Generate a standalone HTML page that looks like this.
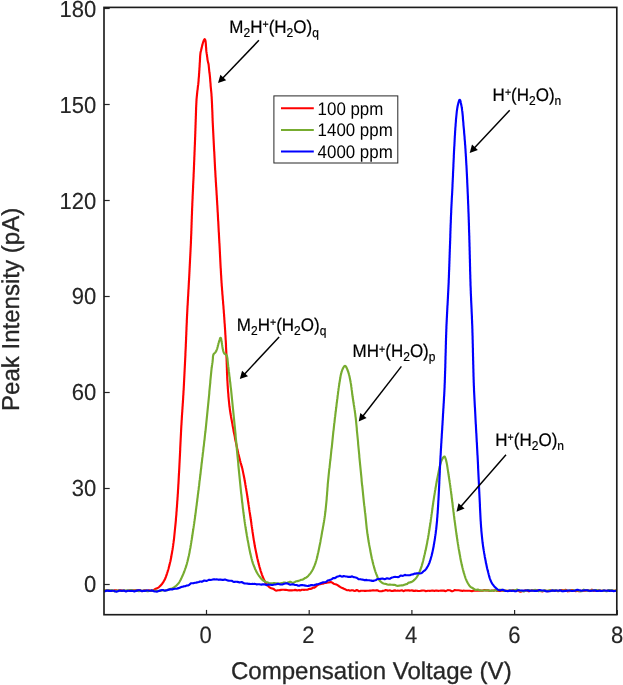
<!DOCTYPE html>
<html><head><meta charset="utf-8"><title>Peak Intensity vs Compensation Voltage</title>
<style>
html,body{margin:0;padding:0;background:#fff}
svg{display:block}
text{font-family:"Liberation Sans",sans-serif;text-rendering:geometricPrecision}
.tk{font-size:22.05px;fill:#262626;stroke:#262626;stroke-width:0.12px}
.lab{font-size:24.05px;fill:#262626;stroke:#262626;stroke-width:0.3px}
.leg{font-size:16.9px;fill:#000}
.ann{font-size:17px;fill:#000;stroke:#000;stroke-width:0.2px}
.ss{font-size:12px}
.sp{font-size:10.6px}
</style></head><body>
<svg width="623" height="685" viewBox="0 0 623 685">
<rect width="623" height="685" fill="#fff"/>
<clipPath id="c"><rect x="104" y="7.4" width="512.8" height="607"/></clipPath>
<g clip-path="url(#c)" fill="none" stroke-width="2.15" stroke-linejoin="round">
<path d="M103.9,590.9 L104.9,590.7 L105.9,590.4 L106.9,590.4 L107.9,590.5 L108.9,590.4 L109.9,590.7 L110.9,590.7 L111.9,590.6 L112.9,590.8 L113.9,590.7 L114.9,590.2 L115.9,590.2 L116.9,590.6 L117.9,590.7 L118.9,590.4 L119.9,590.3 L120.9,590.4 L121.9,590.6 L122.9,590.6 L123.9,590.5 L124.9,590.9 L125.9,591.0 L126.9,591.0 L127.9,590.8 L128.9,590.5 L129.9,590.4 L130.9,590.3 L131.9,590.5 L132.9,590.6 L133.9,590.4 L134.9,590.3 L135.9,590.3 L136.9,590.2 L137.9,590.3 L138.9,590.4 L139.9,590.3 L140.9,590.7 L141.9,591.1 L142.9,591.0 L143.9,590.5 L144.9,590.2 L145.9,590.4 L146.9,590.8 L147.9,590.6 L148.9,590.3 L149.9,590.6 L150.9,590.9 L151.9,590.6 L152.9,590.3 L153.8,589.9 L154.8,589.3 L155.7,588.8 L156.6,588.4 L157.5,588.0 L158.3,587.6 L159.1,587.0 L159.8,586.3 L160.6,585.6 L161.3,584.8 L162.0,584.0 L162.6,583.2 L163.1,582.4 L163.6,581.6 L164.1,580.7 L164.6,579.9 L165.0,579.0 L165.4,578.0 L165.8,577.1 L166.1,576.1 L166.5,575.2 L166.8,574.2 L167.1,573.3 L167.4,572.3 L167.7,571.4 L168.0,570.4 L168.3,569.5 L168.6,568.5 L168.8,567.5 L169.1,566.6 L169.3,565.6 L169.6,564.6 L169.8,563.6 L170.0,562.7 L170.3,561.7 L170.5,560.7 L170.7,559.7 L170.9,558.7 L171.1,557.8 L171.3,556.8 L171.4,555.8 L171.6,554.8 L171.8,553.8 L172.0,552.8 L172.1,551.9 L172.3,550.9 L172.5,549.9 L172.6,548.9 L172.8,547.9 L172.9,546.9 L173.1,545.9 L173.2,544.9 L173.3,543.9 L173.5,542.9 L173.6,542.0 L173.7,541.0 L173.9,540.0 L174.0,539.0 L174.1,538.0 L174.2,537.0 L174.3,536.0 L174.4,535.0 L174.5,534.0 L174.6,533.0 L174.7,532.0 L174.8,531.0 L174.9,530.0 L175.0,529.0 L175.1,528.0 L175.2,527.0 L175.3,526.1 L175.4,525.1 L175.5,524.1 L175.6,523.1 L175.7,522.1 L175.8,521.1 L175.9,520.1 L175.9,519.1 L176.0,518.1 L176.1,517.1 L176.2,516.1 L176.3,515.1 L176.4,514.1 L176.4,513.1 L176.5,512.1 L176.6,511.1 L176.7,510.1 L176.7,509.1 L176.8,508.1 L176.9,507.1 L177.0,506.1 L177.0,505.1 L177.1,504.1 L177.2,503.1 L177.2,502.1 L177.3,501.1 L177.4,500.1 L177.5,499.1 L177.5,498.1 L177.6,497.1 L177.7,496.1 L177.7,495.1 L177.8,494.1 L177.9,493.1 L177.9,492.1 L178.0,491.1 L178.0,490.1 L178.1,489.1 L178.2,488.1 L178.2,487.2 L178.3,486.2 L178.3,485.2 L178.4,484.2 L178.5,483.2 L178.5,482.2 L178.6,481.2 L178.6,480.2 L178.7,479.2 L178.7,478.2 L178.8,477.2 L178.8,476.2 L178.9,475.2 L178.9,474.2 L179.0,473.2 L179.1,472.2 L179.1,471.2 L179.2,470.2 L179.2,469.2 L179.3,468.2 L179.3,467.2 L179.4,466.2 L179.4,465.2 L179.5,464.2 L179.5,463.2 L179.6,462.2 L179.6,461.2 L179.7,460.2 L179.7,459.2 L179.8,458.2 L179.8,457.2 L179.9,456.2 L179.9,455.2 L180.0,454.2 L180.0,453.2 L180.1,452.2 L180.1,451.2 L180.2,450.2 L180.2,449.2 L180.2,448.2 L180.3,447.2 L180.3,446.2 L180.4,445.2 L180.4,444.2 L180.5,443.2 L180.5,442.2 L180.6,441.2 L180.6,440.2 L180.7,439.2 L180.7,438.2 L180.8,437.2 L180.8,436.2 L180.9,435.2 L180.9,434.2 L181.0,433.2 L181.0,432.2 L181.1,431.2 L181.1,430.2 L181.2,429.2 L181.2,428.2 L181.3,427.2 L181.3,426.2 L181.4,425.2 L181.5,424.2 L181.5,423.2 L181.6,422.2 L181.6,421.2 L181.7,420.2 L181.8,419.2 L181.8,418.2 L181.9,417.2 L181.9,416.2 L182.0,415.2 L182.1,414.2 L182.1,413.3 L182.2,412.3 L182.3,411.3 L182.3,410.3 L182.4,409.3 L182.5,408.3 L182.5,407.3 L182.6,406.3 L182.7,405.3 L182.7,404.3 L182.8,403.3 L182.9,402.3 L182.9,401.3 L183.0,400.3 L183.1,399.3 L183.1,398.3 L183.2,397.3 L183.2,396.3 L183.3,395.3 L183.4,394.3 L183.4,393.3 L183.5,392.3 L183.5,391.3 L183.6,390.3 L183.7,389.3 L183.7,388.3 L183.8,387.3 L183.8,386.3 L183.9,385.3 L183.9,384.3 L184.0,383.3 L184.0,382.3 L184.1,381.3 L184.1,380.3 L184.2,379.3 L184.2,378.3 L184.3,377.3 L184.3,376.3 L184.4,375.3 L184.4,374.3 L184.5,373.3 L184.5,372.3 L184.6,371.3 L184.6,370.3 L184.7,369.3 L184.7,368.3 L184.8,367.3 L184.8,366.3 L184.9,365.3 L184.9,364.3 L185.0,363.3 L185.0,362.3 L185.1,361.3 L185.1,360.3 L185.2,359.3 L185.2,358.3 L185.3,357.3 L185.3,356.3 L185.4,355.3 L185.4,354.3 L185.4,353.3 L185.5,352.3 L185.5,351.3 L185.6,350.3 L185.6,349.3 L185.7,348.3 L185.7,347.3 L185.8,346.3 L185.8,345.3 L185.8,344.3 L185.9,343.3 L185.9,342.3 L186.0,341.3 L186.0,340.4 L186.1,339.4 L186.1,338.4 L186.1,337.4 L186.2,336.4 L186.2,335.4 L186.3,334.4 L186.3,333.4 L186.3,332.4 L186.4,331.4 L186.4,330.4 L186.5,329.4 L186.5,328.4 L186.5,327.4 L186.6,326.4 L186.6,325.4 L186.7,324.4 L186.7,323.4 L186.8,322.4 L186.8,321.4 L186.8,320.4 L186.9,319.4 L186.9,318.4 L187.0,317.4 L187.0,316.4 L187.1,315.4 L187.1,314.4 L187.2,313.4 L187.2,312.4 L187.3,311.4 L187.3,310.4 L187.4,309.4 L187.4,308.4 L187.5,307.4 L187.5,306.4 L187.6,305.4 L187.7,304.4 L187.7,303.4 L187.8,302.4 L187.8,301.4 L187.9,300.4 L187.9,299.4 L188.0,298.4 L188.0,297.4 L188.1,296.4 L188.2,295.4 L188.2,294.4 L188.3,293.4 L188.3,292.4 L188.4,291.4 L188.4,290.4 L188.5,289.4 L188.6,288.4 L188.6,287.4 L188.7,286.4 L188.7,285.4 L188.8,284.4 L188.8,283.4 L188.9,282.4 L188.9,281.4 L189.0,280.4 L189.1,279.4 L189.1,278.4 L189.2,277.4 L189.2,276.4 L189.3,275.4 L189.3,274.4 L189.4,273.4 L189.4,272.4 L189.5,271.4 L189.5,270.4 L189.6,269.4 L189.6,268.4 L189.7,267.4 L189.7,266.4 L189.8,265.4 L189.8,264.4 L189.9,263.4 L189.9,262.4 L190.0,261.4 L190.0,260.4 L190.1,259.4 L190.1,258.5 L190.2,257.5 L190.2,256.5 L190.3,255.5 L190.3,254.5 L190.4,253.5 L190.4,252.5 L190.5,251.5 L190.5,250.5 L190.6,249.5 L190.6,248.5 L190.7,247.5 L190.7,246.5 L190.8,245.5 L190.8,244.5 L190.9,243.5 L190.9,242.5 L190.9,241.5 L191.0,240.5 L191.0,239.5 L191.1,238.5 L191.1,237.5 L191.1,236.5 L191.2,235.5 L191.2,234.5 L191.3,233.5 L191.3,232.5 L191.3,231.5 L191.4,230.5 L191.4,229.5 L191.4,228.5 L191.5,227.5 L191.5,226.5 L191.5,225.5 L191.6,224.5 L191.6,223.5 L191.6,222.5 L191.7,221.5 L191.7,220.5 L191.7,219.5 L191.8,218.5 L191.8,217.5 L191.8,216.5 L191.9,215.5 L191.9,214.5 L192.0,213.5 L192.0,212.5 L192.0,211.5 L192.1,210.5 L192.1,209.5 L192.1,208.5 L192.2,207.5 L192.2,206.5 L192.3,205.5 L192.3,204.5 L192.3,203.5 L192.4,202.5 L192.4,201.5 L192.5,200.5 L192.5,199.5 L192.6,198.5 L192.6,197.5 L192.6,196.5 L192.7,195.5 L192.7,194.5 L192.8,193.5 L192.8,192.5 L192.9,191.5 L192.9,190.5 L193.0,189.5 L193.0,188.5 L193.1,187.5 L193.1,186.5 L193.1,185.5 L193.2,184.5 L193.2,183.5 L193.3,182.5 L193.3,181.5 L193.4,180.5 L193.4,179.5 L193.5,178.5 L193.5,177.5 L193.6,176.5 L193.6,175.5 L193.6,174.5 L193.7,173.5 L193.7,172.5 L193.8,171.5 L193.8,170.5 L193.9,169.5 L193.9,168.5 L193.9,167.5 L194.0,166.5 L194.0,165.5 L194.1,164.5 L194.1,163.5 L194.1,162.5 L194.2,161.5 L194.2,160.5 L194.3,159.5 L194.3,158.5 L194.3,157.5 L194.4,156.5 L194.4,155.5 L194.5,154.5 L194.5,153.5 L194.5,152.5 L194.6,151.5 L194.6,150.5 L194.7,149.5 L194.7,148.5 L194.7,147.5 L194.8,146.5 L194.8,145.5 L194.9,144.5 L194.9,143.5 L194.9,142.5 L195.0,141.5 L195.0,140.5 L195.1,139.5 L195.1,138.5 L195.1,137.5 L195.2,136.5 L195.2,135.5 L195.2,134.6 L195.3,133.6 L195.3,132.6 L195.3,131.6 L195.4,130.6 L195.4,129.6 L195.4,128.6 L195.5,127.6 L195.5,126.6 L195.5,125.6 L195.6,124.6 L195.6,123.6 L195.6,122.6 L195.7,121.6 L195.7,120.6 L195.7,119.6 L195.8,118.6 L195.8,117.6 L195.8,116.6 L195.9,115.6 L195.9,114.6 L195.9,113.6 L196.0,112.6 L196.0,111.6 L196.0,110.6 L196.1,109.6 L196.1,108.6 L196.1,107.6 L196.2,106.6 L196.2,105.6 L196.3,104.6 L196.3,103.6 L196.4,102.6 L196.4,101.6 L196.5,100.6 L196.5,99.6 L196.6,98.6 L196.7,97.6 L196.8,96.6 L196.9,95.6 L197.0,94.6 L197.1,93.6 L197.2,92.6 L197.3,91.6 L197.4,90.6 L197.6,89.6 L197.7,88.6 L197.8,87.6 L197.9,86.6 L198.0,85.7 L198.2,84.7 L198.3,83.7 L198.4,82.7 L198.5,81.7 L198.6,80.7 L198.6,79.7 L198.7,78.7 L198.8,77.7 L198.9,76.7 L199.0,75.7 L199.0,74.7 L199.1,73.7 L199.2,72.7 L199.2,71.7 L199.3,70.7 L199.4,69.7 L199.4,68.7 L199.5,67.7 L199.6,66.7 L199.6,65.7 L199.7,64.7 L199.7,63.7 L199.8,62.7 L199.9,61.7 L199.9,60.7 L200.0,59.7 L200.0,58.7 L200.1,57.7 L200.1,56.7 L200.2,55.7 L200.3,54.7 L200.4,53.7 L200.5,52.8 L200.7,51.8 L201.0,50.8 L201.2,49.8 L201.4,48.9 L201.7,47.9 L201.9,46.9 L202.1,45.9 L202.4,44.9 L202.6,44.0 L202.9,43.0 L203.2,42.0 L203.5,41.1 L204.0,40.0 L204.5,39.2 L205.1,39.7 L205.5,40.8 L205.6,41.7 L205.7,42.7 L205.8,43.7 L205.9,44.7 L205.9,45.7 L206.0,46.7 L206.1,47.7 L206.2,48.7 L206.2,49.7 L206.3,50.7 L206.4,51.7 L206.6,52.7 L206.7,53.7 L206.9,54.7 L207.0,55.7 L207.1,56.6 L207.3,57.6 L207.4,58.6 L207.5,59.6 L207.7,60.6 L207.9,61.6 L208.1,62.6 L208.4,63.5 L208.6,64.5 L208.7,65.5 L208.8,66.5 L208.9,67.5 L209.0,68.5 L209.1,69.5 L209.2,70.5 L209.3,71.5 L209.4,72.5 L209.6,73.4 L209.7,74.4 L209.8,75.4 L209.9,76.4 L210.0,77.4 L210.1,78.4 L210.2,79.4 L210.2,80.4 L210.3,81.4 L210.4,82.4 L210.5,83.4 L210.6,84.4 L210.6,85.4 L210.7,86.4 L210.8,87.4 L210.9,88.4 L211.0,89.4 L211.1,90.4 L211.2,91.4 L211.3,92.4 L211.4,93.4 L211.5,94.4 L211.5,95.4 L211.6,96.4 L211.7,97.4 L211.7,98.4 L211.8,99.4 L211.8,100.4 L211.9,101.4 L211.9,102.4 L212.0,103.3 L212.0,104.3 L212.1,105.3 L212.1,106.3 L212.1,107.3 L212.2,108.3 L212.2,109.3 L212.3,110.3 L212.3,111.3 L212.4,112.3 L212.4,113.3 L212.4,114.3 L212.5,115.3 L212.5,116.3 L212.5,117.3 L212.6,118.3 L212.6,119.3 L212.6,120.3 L212.7,121.3 L212.7,122.3 L212.8,123.3 L212.8,124.3 L212.9,125.3 L212.9,126.3 L213.0,127.3 L213.0,128.3 L213.1,129.3 L213.1,130.3 L213.2,131.3 L213.2,132.3 L213.3,133.3 L213.3,134.3 L213.4,135.3 L213.4,136.3 L213.5,137.3 L213.5,138.3 L213.6,139.3 L213.6,140.3 L213.7,141.3 L213.7,142.3 L213.8,143.3 L213.8,144.3 L213.9,145.3 L213.9,146.3 L214.0,147.3 L214.0,148.3 L214.1,149.3 L214.1,150.3 L214.2,151.3 L214.3,152.3 L214.3,153.3 L214.4,154.3 L214.4,155.3 L214.5,156.3 L214.5,157.3 L214.6,158.3 L214.6,159.3 L214.7,160.3 L214.7,161.3 L214.8,162.3 L214.8,163.3 L214.9,164.3 L214.9,165.3 L215.0,166.3 L215.0,167.3 L215.1,168.3 L215.1,169.3 L215.2,170.3 L215.3,171.3 L215.3,172.3 L215.4,173.3 L215.4,174.3 L215.5,175.3 L215.5,176.3 L215.6,177.3 L215.7,178.3 L215.7,179.3 L215.8,180.3 L215.8,181.3 L215.9,182.3 L216.0,183.3 L216.0,184.3 L216.1,185.2 L216.1,186.2 L216.2,187.2 L216.3,188.2 L216.3,189.2 L216.4,190.2 L216.5,191.2 L216.5,192.2 L216.6,193.2 L216.6,194.2 L216.7,195.2 L216.8,196.2 L216.8,197.2 L216.9,198.2 L216.9,199.2 L217.0,200.2 L217.1,201.2 L217.1,202.2 L217.2,203.2 L217.2,204.2 L217.3,205.2 L217.4,206.2 L217.4,207.2 L217.5,208.2 L217.5,209.2 L217.6,210.2 L217.6,211.2 L217.7,212.2 L217.8,213.2 L217.8,214.2 L217.9,215.2 L217.9,216.2 L218.0,217.2 L218.0,218.2 L218.1,219.2 L218.1,220.2 L218.2,221.2 L218.3,222.2 L218.3,223.2 L218.4,224.2 L218.4,225.2 L218.5,226.2 L218.5,227.2 L218.6,228.2 L218.6,229.2 L218.7,230.2 L218.7,231.2 L218.8,232.2 L218.9,233.2 L218.9,234.2 L219.0,235.2 L219.0,236.2 L219.1,237.2 L219.1,238.2 L219.2,239.2 L219.2,240.2 L219.3,241.2 L219.3,242.2 L219.4,243.2 L219.5,244.2 L219.5,245.2 L219.6,246.2 L219.6,247.2 L219.7,248.2 L219.7,249.1 L219.8,250.1 L219.8,251.1 L219.9,252.1 L219.9,253.1 L220.0,254.1 L220.0,255.1 L220.1,256.1 L220.1,257.1 L220.2,258.1 L220.2,259.1 L220.3,260.1 L220.3,261.1 L220.4,262.1 L220.4,263.1 L220.5,264.1 L220.5,265.1 L220.6,266.1 L220.6,267.1 L220.7,268.1 L220.8,269.1 L220.8,270.1 L220.9,271.1 L220.9,272.1 L221.0,273.1 L221.0,274.1 L221.1,275.1 L221.2,276.1 L221.2,277.1 L221.3,278.1 L221.3,279.1 L221.4,280.1 L221.5,281.1 L221.5,282.1 L221.6,283.1 L221.7,284.1 L221.7,285.1 L221.8,286.1 L221.9,287.1 L222.0,288.1 L222.0,289.1 L222.1,290.1 L222.2,291.1 L222.3,292.1 L222.3,293.1 L222.4,294.1 L222.5,295.1 L222.6,296.1 L222.7,297.1 L222.7,298.1 L222.8,299.1 L222.9,300.0 L223.0,301.0 L223.1,302.0 L223.1,303.0 L223.2,304.0 L223.3,305.0 L223.4,306.0 L223.5,307.0 L223.5,308.0 L223.6,309.0 L223.7,310.0 L223.8,311.0 L223.8,312.0 L223.9,313.0 L224.0,314.0 L224.1,315.0 L224.1,316.0 L224.2,317.0 L224.3,318.0 L224.3,319.0 L224.4,320.0 L224.5,321.0 L224.5,322.0 L224.6,323.0 L224.7,324.0 L224.8,325.0 L224.8,326.0 L224.9,327.0 L225.0,328.0 L225.0,329.0 L225.1,330.0 L225.2,331.0 L225.2,332.0 L225.3,333.0 L225.3,334.0 L225.4,335.0 L225.5,336.0 L225.5,337.0 L225.6,338.0 L225.6,339.0 L225.7,340.0 L225.8,341.0 L225.8,342.0 L225.9,342.9 L225.9,343.9 L226.0,344.9 L226.0,345.9 L226.0,346.9 L226.1,347.9 L226.1,348.9 L226.2,349.9 L226.2,350.9 L226.3,351.9 L226.3,352.9 L226.4,353.9 L226.4,354.9 L226.4,355.9 L226.5,356.9 L226.5,357.9 L226.6,358.9 L226.6,359.9 L226.6,360.9 L226.7,361.9 L226.7,362.9 L226.7,363.9 L226.8,364.9 L226.8,365.9 L226.8,366.9 L226.9,367.9 L226.9,368.9 L226.9,369.9 L227.0,370.9 L227.0,371.9 L227.0,372.9 L227.1,373.9 L227.1,374.9 L227.2,375.9 L227.2,376.9 L227.2,377.9 L227.3,378.9 L227.3,379.9 L227.4,380.9 L227.5,381.9 L227.5,382.9 L227.6,383.9 L227.6,384.9 L227.7,385.9 L227.8,386.9 L227.8,387.9 L227.9,388.9 L228.0,389.9 L228.0,390.9 L228.1,391.9 L228.2,392.9 L228.3,393.9 L228.4,394.9 L228.4,395.9 L228.5,396.9 L228.6,397.9 L228.7,398.9 L228.8,399.9 L228.9,400.9 L229.0,401.9 L229.1,402.9 L229.2,403.9 L229.3,404.8 L229.4,405.8 L229.5,406.8 L229.7,407.8 L229.8,408.8 L229.9,409.8 L230.1,410.8 L230.2,411.8 L230.4,412.8 L230.5,413.8 L230.7,414.7 L230.9,415.7 L231.0,416.7 L231.2,417.7 L231.4,418.7 L231.6,419.7 L231.8,420.7 L231.9,421.6 L232.1,422.6 L232.3,423.6 L232.5,424.6 L232.6,425.6 L232.8,426.6 L233.0,427.5 L233.2,428.5 L233.4,429.5 L233.5,430.5 L233.7,431.5 L233.9,432.5 L234.1,433.4 L234.3,434.4 L234.5,435.4 L234.7,436.4 L234.9,437.4 L235.0,438.4 L235.2,439.3 L235.4,440.3 L235.6,441.3 L235.9,442.3 L236.1,443.3 L236.3,444.2 L236.5,445.2 L236.7,446.2 L236.9,447.2 L237.1,448.1 L237.3,449.1 L237.5,450.1 L237.8,451.1 L238.0,452.0 L238.2,453.0 L238.4,454.0 L238.7,455.0 L238.9,455.9 L239.1,456.9 L239.4,457.9 L239.6,458.9 L239.9,459.8 L240.1,460.8 L240.4,461.8 L240.6,462.7 L240.9,463.7 L241.2,464.6 L241.5,465.6 L241.7,466.6 L242.0,467.5 L242.3,468.5 L242.5,469.5 L242.7,470.4 L242.9,471.4 L243.1,472.4 L243.3,473.4 L243.5,474.4 L243.7,475.3 L243.9,476.3 L244.1,477.3 L244.3,478.3 L244.5,479.3 L244.6,480.3 L244.8,481.2 L245.0,482.2 L245.2,483.2 L245.3,484.2 L245.5,485.2 L245.7,486.2 L245.8,487.2 L246.0,488.1 L246.2,489.1 L246.3,490.1 L246.5,491.1 L246.7,492.1 L246.8,493.1 L247.0,494.1 L247.1,495.1 L247.3,496.0 L247.4,497.0 L247.6,498.0 L247.7,499.0 L247.9,500.0 L248.0,501.0 L248.2,502.0 L248.3,503.0 L248.5,504.0 L248.6,504.9 L248.8,505.9 L248.9,506.9 L249.1,507.9 L249.2,508.9 L249.3,509.9 L249.5,510.9 L249.6,511.9 L249.8,512.9 L249.9,513.8 L250.1,514.8 L250.2,515.8 L250.4,516.8 L250.5,517.8 L250.7,518.8 L250.8,519.8 L251.0,520.8 L251.1,521.8 L251.3,522.8 L251.4,523.7 L251.5,524.7 L251.7,525.7 L251.8,526.7 L252.0,527.7 L252.1,528.7 L252.3,529.7 L252.4,530.7 L252.5,531.7 L252.7,532.7 L252.8,533.6 L253.0,534.6 L253.1,535.6 L253.3,536.6 L253.4,537.6 L253.6,538.6 L253.7,539.6 L253.9,540.6 L254.1,541.5 L254.2,542.5 L254.4,543.5 L254.6,544.5 L254.7,545.5 L254.9,546.5 L255.1,547.5 L255.3,548.4 L255.5,549.4 L255.7,550.4 L255.9,551.4 L256.1,552.4 L256.3,553.3 L256.5,554.3 L256.7,555.3 L256.9,556.3 L257.1,557.3 L257.3,558.2 L257.6,559.2 L257.8,560.2 L258.0,561.2 L258.3,562.1 L258.5,563.1 L258.7,564.1 L259.0,565.0 L259.3,566.0 L259.5,567.0 L259.8,567.9 L260.1,568.9 L260.4,569.9 L260.6,570.8 L261.0,571.8 L261.3,572.7 L261.6,573.7 L261.9,574.6 L262.3,575.5 L262.6,576.5 L263.0,577.4 L263.4,578.3 L263.8,579.3 L264.3,580.2 L264.7,581.1 L265.2,581.9 L265.7,582.8 L266.3,583.6 L266.9,584.4 L267.5,585.2 L268.2,586.0 L268.9,586.7 L269.7,587.4 L270.5,588.0 L271.3,588.2 L272.2,588.5 L273.1,588.8 L274.1,589.3 L275.1,590.1 L276.0,590.6 L277.0,590.5 L278.0,590.2 L279.0,590.3 L280.0,590.1 L281.0,589.9 L282.0,589.8 L283.0,589.7 L284.0,589.8 L285.0,589.9 L286.0,589.9 L287.0,590.0 L288.0,590.3 L289.0,590.4 L290.0,590.4 L291.0,590.4 L292.0,590.4 L293.0,590.3 L294.0,590.2 L295.1,589.9 L296.1,590.1 L297.1,590.5 L298.1,590.3 L299.1,590.1 L300.1,590.4 L301.1,590.1 L302.1,589.7 L303.1,589.7 L304.0,589.9 L305.0,589.7 L306.0,589.7 L307.0,589.8 L307.9,589.5 L308.9,589.0 L309.8,588.8 L310.8,588.9 L311.7,588.6 L312.7,587.8 L313.6,587.6 L314.5,587.6 L315.5,586.9 L316.4,586.0 L317.3,585.4 L318.2,584.9 L319.1,584.4 L320.1,584.2 L321.0,584.0 L321.9,583.8 L322.9,583.7 L323.9,583.3 L324.8,583.0 L325.8,582.9 L326.8,582.7 L327.8,582.5 L328.8,582.4 L329.8,582.2 L330.7,582.1 L331.7,582.3 L332.6,582.9 L333.6,583.7 L334.5,584.0 L335.4,584.2 L336.3,584.5 L337.1,584.9 L337.9,585.4 L338.8,586.0 L339.6,586.5 L340.4,587.1 L341.3,587.6 L342.1,587.9 L343.0,588.3 L343.9,588.8 L344.9,589.1 L345.8,589.6 L346.8,590.2 L347.8,590.2 L348.8,590.1 L349.8,590.6 L350.8,590.5 L351.8,590.2 L352.8,590.3 L353.8,590.8 L354.8,591.0 L355.8,590.5 L356.7,590.1 L357.7,590.4 L358.7,591.1 L359.7,591.2 L360.7,590.8 L361.7,590.7 L362.7,590.7 L363.7,590.7 L364.7,590.9 L365.7,590.9 L366.7,590.7 L367.7,590.7 L368.7,590.7 L369.7,590.6 L370.7,590.6 L371.7,590.5 L372.7,590.3 L373.7,590.3 L374.7,590.5 L375.7,590.4 L376.7,590.2 L377.7,590.4 L378.7,591.0 L379.7,591.2 L380.7,591.2 L381.7,591.2 L382.7,590.9 L383.7,590.7 L384.7,590.5 L385.7,590.0 L386.8,590.2 L387.8,590.7 L388.8,590.5 L389.8,590.4 L390.8,590.7 L391.8,591.0 L392.8,590.9 L393.8,590.6 L394.8,590.4 L395.8,590.6 L396.8,590.7 L397.8,590.6 L398.8,590.7 L399.8,590.8 L400.8,590.5 L401.8,590.3 L402.8,590.8 L403.8,591.1 L404.8,590.5 L405.8,590.3 L406.8,590.5 L407.8,590.4 L408.8,590.4 L409.8,590.6 L410.8,590.5 L411.8,590.4 L412.8,590.6 L413.8,590.9 L414.8,590.9 L415.8,590.6 L416.8,590.7 L417.8,590.9 L418.8,591.0 L419.8,591.0 L420.8,590.8 L421.8,590.6 L422.8,590.5 L423.8,590.5 L424.8,590.8 L425.8,591.1 L426.8,591.0 L427.8,590.7 L428.8,590.7 L429.8,590.9 L430.8,590.7 L431.8,590.6 L432.8,590.6 L433.8,590.8 L434.8,590.8 L435.8,590.6 L436.8,590.6 L437.8,590.8 L438.8,590.8 L439.8,590.7 L440.8,590.6 L441.8,590.6 L442.8,590.6 L443.8,590.6 L444.8,590.9 L445.8,591.2 L446.8,590.6 L447.8,590.1 L448.8,590.2 L449.8,590.3 L450.8,590.7 L451.8,591.2 L452.8,591.2 L453.8,590.6 L454.8,590.0 L455.8,590.2 L456.8,590.2 L457.8,590.2 L458.8,590.3 L459.8,590.5 L460.8,590.6 L461.8,590.8 L462.8,590.8 L463.8,590.6 L464.8,590.7 L465.8,590.8 L466.8,590.7 L467.8,590.8 L468.8,590.7 L469.8,590.8 L470.8,591.0 L471.8,591.1 L472.8,590.9 L473.8,590.8 L474.8,590.6 L475.8,590.5 L476.8,590.7 L477.8,590.6 L478.8,590.6 L479.8,590.6 L480.8,590.6 L481.8,590.7 L482.8,590.6 L483.8,590.2 L484.8,590.0 L485.8,590.4 L486.8,590.4 L487.8,590.3 L488.8,590.6 L489.8,590.9 L490.8,590.7 L491.8,590.5 L492.8,590.5 L493.8,590.8 L494.8,590.3 L495.8,590.2 L496.8,590.8 L497.8,590.8 L498.8,590.9 L499.8,591.0 L500.8,590.8 L501.8,590.6 L502.8,590.8 L503.8,590.9 L504.8,590.7 L505.8,590.7 L506.8,590.9 L507.8,590.7 L508.8,590.7 L509.8,591.0 L510.8,590.9 L511.8,590.5 L512.8,590.3 L513.8,590.4 L514.8,590.8 L515.8,590.7 L516.8,590.1 L517.8,590.3 L518.8,591.1 L519.8,591.6 L520.8,591.6 L521.8,591.3 L522.8,591.0 L523.8,590.7 L524.8,590.6 L525.8,590.3 L526.8,590.3 L527.8,590.9 L528.8,591.3 L529.8,591.1 L530.8,590.7 L531.8,590.4 L532.8,590.3 L533.8,590.5 L534.8,590.6 L535.8,590.5 L536.8,590.4 L537.8,590.3 L538.8,590.3 L539.8,590.7 L540.8,591.1 L541.8,591.3 L542.8,591.3 L543.8,591.0 L544.8,590.8 L545.8,590.7 L546.8,590.7 L547.8,591.2 L548.8,591.1 L549.8,590.5 L550.8,590.4 L551.8,590.7 L552.8,590.9 L553.8,590.8 L554.8,590.6 L555.8,590.6 L556.8,590.7 L557.8,591.1 L558.8,590.9 L559.8,590.4 L560.8,590.3 L561.8,590.1 L562.8,590.2 L563.8,590.5 L564.8,590.1 L565.8,589.8 L566.8,590.5 L567.8,591.3 L568.8,591.2 L569.8,590.9 L570.8,590.6 L571.8,590.0 L572.8,590.1 L573.8,590.7 L574.8,591.0 L575.8,591.1 L576.8,591.0 L577.8,590.9 L578.8,591.1 L579.8,591.2 L580.8,591.0 L581.8,590.7 L582.8,590.5 L583.8,590.6 L584.8,590.7 L585.8,590.6 L586.8,590.3 L587.8,590.3 L588.8,590.7 L589.8,591.1 L590.8,590.6 L591.8,589.7 L592.8,590.1 L593.8,590.9 L594.8,590.8 L595.8,590.7 L596.8,590.9 L597.8,590.7 L598.8,590.4 L599.8,590.7 L600.8,590.9 L601.8,590.7 L602.8,590.7 L603.8,590.7 L604.8,590.7 L605.8,591.0 L606.8,590.8 L607.8,590.7 L608.8,590.4 L609.8,590.2 L610.8,590.5 L611.8,590.9 L612.8,590.8 L613.8,590.7 L614.8,590.7 L615.8,590.6 L616.8,590.5" stroke="#ff0000"/>
<path d="M103.9,590.6 L104.9,590.5 L105.9,590.4 L106.9,590.6 L107.9,590.3 L108.9,590.3 L109.9,590.6 L110.9,590.3 L111.9,590.2 L112.9,590.4 L113.9,591.0 L114.9,591.4 L115.9,590.9 L116.9,590.5 L117.9,590.6 L118.9,590.6 L119.9,590.8 L120.9,590.9 L121.9,590.7 L122.9,590.5 L123.9,590.5 L124.9,590.6 L125.9,590.6 L126.9,590.4 L127.9,590.5 L128.9,590.5 L129.9,590.4 L130.9,590.1 L131.9,590.2 L132.9,590.4 L133.9,590.9 L134.9,590.9 L135.9,590.4 L136.9,590.5 L137.9,591.0 L138.9,591.2 L139.9,590.9 L140.9,590.5 L141.9,590.7 L142.9,590.8 L143.9,590.8 L144.9,590.6 L145.9,590.5 L146.9,591.1 L147.9,591.3 L148.9,590.9 L149.9,590.8 L150.9,590.7 L151.9,590.5 L152.9,590.7 L153.9,590.9 L154.9,590.7 L155.9,590.5 L156.9,590.7 L157.9,591.0 L158.9,591.0 L159.9,590.8 L160.9,590.8 L161.9,590.6 L162.9,590.1 L163.9,590.2 L164.9,590.5 L165.9,590.5 L166.9,590.2 L167.9,589.7 L168.9,589.5 L169.8,589.1 L170.7,588.7 L171.6,588.7 L172.5,588.3 L173.4,587.7 L174.3,587.2 L175.1,586.6 L176.0,585.9 L176.7,585.3 L177.4,584.6 L178.0,583.9 L178.6,583.2 L179.2,582.3 L179.7,581.5 L180.2,580.6 L180.7,579.7 L181.1,578.8 L181.6,577.8 L182.0,576.9 L182.4,576.0 L182.8,575.1 L183.2,574.2 L183.6,573.2 L184.0,572.3 L184.3,571.4 L184.7,570.4 L185.0,569.5 L185.3,568.5 L185.7,567.6 L186.0,566.6 L186.3,565.7 L186.6,564.7 L186.9,563.7 L187.1,562.8 L187.4,561.8 L187.6,560.9 L187.9,559.9 L188.1,558.9 L188.3,558.0 L188.5,557.0 L188.8,556.0 L189.0,555.0 L189.2,554.1 L189.4,553.1 L189.6,552.1 L189.7,551.1 L189.9,550.1 L190.1,549.1 L190.3,548.2 L190.5,547.2 L190.6,546.2 L190.8,545.2 L191.0,544.2 L191.1,543.2 L191.3,542.2 L191.4,541.2 L191.6,540.2 L191.8,539.2 L191.9,538.3 L192.1,537.3 L192.2,536.3 L192.4,535.3 L192.5,534.3 L192.7,533.3 L192.8,532.3 L193.0,531.3 L193.1,530.3 L193.3,529.3 L193.4,528.4 L193.6,527.4 L193.7,526.4 L193.9,525.4 L194.0,524.4 L194.2,523.4 L194.3,522.4 L194.4,521.4 L194.6,520.4 L194.7,519.4 L194.9,518.5 L195.0,517.5 L195.1,516.5 L195.3,515.5 L195.4,514.5 L195.5,513.5 L195.7,512.5 L195.8,511.5 L195.9,510.5 L196.0,509.5 L196.2,508.5 L196.3,507.5 L196.4,506.5 L196.6,505.6 L196.7,504.6 L196.8,503.6 L196.9,502.6 L197.1,501.6 L197.2,500.6 L197.3,499.6 L197.4,498.6 L197.6,497.6 L197.7,496.6 L197.8,495.6 L197.9,494.6 L198.1,493.6 L198.2,492.7 L198.3,491.7 L198.4,490.7 L198.6,489.7 L198.7,488.7 L198.8,487.7 L198.9,486.7 L199.1,485.7 L199.2,484.7 L199.3,483.7 L199.4,482.7 L199.5,481.7 L199.6,480.7 L199.8,479.7 L199.9,478.7 L200.0,477.8 L200.1,476.8 L200.2,475.8 L200.4,474.8 L200.5,473.8 L200.6,472.8 L200.7,471.8 L200.8,470.8 L200.9,469.8 L201.1,468.8 L201.2,467.8 L201.3,466.8 L201.4,465.8 L201.5,464.8 L201.6,463.8 L201.8,462.8 L201.9,461.9 L202.0,460.9 L202.1,459.9 L202.2,458.9 L202.3,457.9 L202.5,456.9 L202.6,455.9 L202.7,454.9 L202.8,453.9 L202.9,452.9 L203.1,451.9 L203.2,450.9 L203.3,449.9 L203.4,448.9 L203.5,447.9 L203.6,446.9 L203.8,446.0 L203.9,445.0 L204.0,444.0 L204.1,443.0 L204.2,442.0 L204.3,441.0 L204.5,440.0 L204.6,439.0 L204.7,438.0 L204.8,437.0 L204.9,436.0 L205.0,435.0 L205.1,434.0 L205.2,433.0 L205.4,432.0 L205.5,431.0 L205.6,430.1 L205.7,429.1 L205.8,428.1 L205.9,427.1 L206.0,426.1 L206.1,425.1 L206.2,424.1 L206.3,423.1 L206.4,422.1 L206.5,421.1 L206.6,420.1 L206.7,419.1 L206.8,418.1 L206.9,417.1 L207.0,416.1 L207.1,415.1 L207.2,414.1 L207.3,413.1 L207.4,412.1 L207.5,411.1 L207.6,410.1 L207.7,409.2 L207.8,408.2 L207.9,407.2 L208.0,406.2 L208.1,405.2 L208.2,404.2 L208.3,403.2 L208.4,402.2 L208.5,401.2 L208.6,400.2 L208.7,399.2 L208.8,398.2 L208.9,397.2 L209.0,396.2 L209.1,395.2 L209.2,394.2 L209.3,393.2 L209.3,392.2 L209.4,391.2 L209.5,390.2 L209.6,389.2 L209.7,388.2 L209.8,387.2 L209.9,386.2 L210.0,385.2 L210.1,384.2 L210.2,383.3 L210.3,382.3 L210.3,381.3 L210.4,380.3 L210.5,379.3 L210.6,378.3 L210.7,377.3 L210.8,376.3 L210.9,375.3 L211.0,374.3 L211.1,373.3 L211.2,372.3 L211.3,371.3 L211.4,370.3 L211.5,369.3 L211.6,368.3 L211.8,367.3 L211.9,366.3 L212.0,365.3 L212.2,364.4 L212.3,363.4 L212.5,362.4 L212.6,361.4 L212.7,360.4 L212.8,359.4 L212.9,358.4 L212.9,357.4 L213.0,356.4 L213.2,355.4 L213.5,354.4 L214.0,353.6 L214.8,353.0 L215.5,352.3 L216.0,351.5 L216.4,350.5 L216.8,349.6 L217.2,348.6 L217.4,347.7 L217.7,346.7 L217.9,345.7 L218.2,344.8 L218.4,343.8 L218.7,342.8 L219.0,341.7 L219.4,340.5 L219.8,339.3 L220.1,338.3 L220.4,337.7 L220.7,337.7 L221.0,338.2 L221.2,339.3 L221.4,340.5 L221.6,341.8 L221.8,342.9 L222.0,343.9 L222.1,344.9 L222.3,345.9 L222.4,346.9 L222.6,347.9 L222.7,348.8 L223.0,349.8 L223.2,350.8 L223.5,351.9 L223.9,352.8 L224.3,353.6 L225.2,354.2 L226.1,354.6 L226.7,355.4 L227.0,356.3 L227.2,357.3 L227.4,358.2 L227.5,359.2 L227.6,360.2 L227.7,361.2 L227.8,362.2 L227.9,363.2 L228.0,364.2 L228.1,365.2 L228.2,366.2 L228.4,367.2 L228.5,368.2 L228.6,369.2 L228.7,370.2 L228.8,371.2 L229.0,372.2 L229.1,373.2 L229.2,374.1 L229.3,375.1 L229.4,376.1 L229.6,377.1 L229.7,378.1 L229.8,379.1 L229.9,380.1 L230.0,381.1 L230.2,382.1 L230.3,383.1 L230.4,384.1 L230.5,385.1 L230.6,386.1 L230.7,387.1 L230.9,388.1 L231.0,389.0 L231.1,390.0 L231.2,391.0 L231.3,392.0 L231.4,393.0 L231.5,394.0 L231.6,395.0 L231.7,396.0 L231.8,397.0 L231.9,398.0 L232.0,399.0 L232.1,400.0 L232.2,401.0 L232.3,402.0 L232.4,403.0 L232.5,404.0 L232.6,405.0 L232.7,406.0 L232.8,407.0 L232.9,408.0 L233.0,409.0 L233.1,409.9 L233.2,410.9 L233.3,411.9 L233.4,412.9 L233.5,413.9 L233.6,414.9 L233.7,415.9 L233.8,416.9 L233.9,417.9 L234.0,418.9 L234.1,419.9 L234.2,420.9 L234.3,421.9 L234.4,422.9 L234.5,423.9 L234.6,424.9 L234.7,425.9 L234.8,426.9 L234.9,427.9 L235.0,428.9 L235.1,429.9 L235.2,430.9 L235.3,431.9 L235.4,432.9 L235.5,433.8 L235.6,434.8 L235.6,435.8 L235.7,436.8 L235.8,437.8 L235.9,438.8 L236.0,439.8 L236.1,440.8 L236.2,441.8 L236.3,442.8 L236.4,443.8 L236.5,444.8 L236.6,445.8 L236.7,446.8 L236.8,447.8 L236.8,448.8 L236.9,449.8 L237.0,450.8 L237.1,451.8 L237.2,452.8 L237.3,453.8 L237.4,454.8 L237.5,455.8 L237.6,456.8 L237.7,457.8 L237.8,458.8 L237.9,459.7 L238.0,460.7 L238.1,461.7 L238.2,462.7 L238.3,463.7 L238.3,464.7 L238.4,465.7 L238.5,466.7 L238.6,467.7 L238.7,468.7 L238.8,469.7 L238.9,470.7 L239.0,471.7 L239.1,472.7 L239.2,473.7 L239.3,474.7 L239.4,475.7 L239.5,476.7 L239.6,477.7 L239.7,478.7 L239.8,479.7 L239.9,480.7 L240.0,481.7 L240.1,482.7 L240.2,483.6 L240.3,484.6 L240.4,485.6 L240.5,486.6 L240.6,487.6 L240.7,488.6 L240.8,489.6 L240.9,490.6 L241.0,491.6 L241.1,492.6 L241.2,493.6 L241.4,494.6 L241.5,495.6 L241.6,496.6 L241.7,497.6 L241.8,498.6 L241.9,499.6 L242.0,500.6 L242.1,501.6 L242.2,502.6 L242.4,503.5 L242.5,504.5 L242.6,505.5 L242.7,506.5 L242.8,507.5 L242.9,508.5 L243.1,509.5 L243.2,510.5 L243.3,511.5 L243.4,512.5 L243.6,513.5 L243.7,514.5 L243.8,515.5 L244.0,516.5 L244.1,517.4 L244.2,518.4 L244.4,519.4 L244.5,520.4 L244.6,521.4 L244.8,522.4 L244.9,523.4 L245.1,524.4 L245.2,525.4 L245.4,526.4 L245.5,527.3 L245.7,528.3 L245.8,529.3 L246.0,530.3 L246.2,531.3 L246.3,532.3 L246.5,533.3 L246.7,534.3 L246.8,535.2 L247.0,536.2 L247.2,537.2 L247.4,538.2 L247.5,539.2 L247.7,540.2 L247.9,541.1 L248.1,542.1 L248.3,543.1 L248.5,544.1 L248.6,545.1 L248.8,546.1 L249.0,547.1 L249.2,548.0 L249.4,549.0 L249.6,550.0 L249.8,551.0 L250.0,552.0 L250.2,553.0 L250.4,553.9 L250.7,554.9 L250.9,555.9 L251.1,556.9 L251.4,557.8 L251.6,558.8 L251.9,559.7 L252.1,560.7 L252.4,561.7 L252.7,562.6 L253.0,563.6 L253.4,564.5 L253.7,565.5 L254.1,566.4 L254.5,567.3 L254.8,568.3 L255.2,569.2 L255.7,570.1 L256.1,571.0 L256.5,571.9 L257.0,572.7 L257.5,573.6 L258.1,574.5 L258.6,575.3 L259.2,576.1 L259.8,576.9 L260.4,577.7 L261.1,578.5 L261.8,579.3 L262.5,580.0 L263.3,580.5 L264.1,581.0 L265.0,581.7 L265.9,582.1 L266.9,582.3 L267.8,582.6 L268.8,583.0 L269.8,583.4 L270.7,583.2 L271.7,583.2 L272.7,583.2 L273.7,583.0 L274.8,583.1 L275.8,583.2 L276.8,583.3 L277.8,583.5 L278.8,583.6 L279.8,583.5 L280.8,583.2 L281.8,583.0 L282.8,582.9 L283.8,582.6 L284.8,582.6 L285.8,582.9 L286.8,583.0 L287.8,582.6 L288.8,582.2 L289.8,581.8 L290.8,581.9 L291.8,582.4 L292.8,582.8 L293.8,582.6 L294.7,582.1 L295.7,581.5 L296.6,581.3 L297.5,581.1 L298.5,580.9 L299.4,580.6 L300.4,580.1 L301.4,579.8 L302.4,579.7 L303.3,579.3 L304.2,578.6 L305.1,578.0 L305.9,577.7 L306.7,577.3 L307.5,576.6 L308.2,575.9 L308.9,575.1 L309.6,574.3 L310.2,573.6 L310.8,572.8 L311.3,572.0 L311.9,571.1 L312.4,570.3 L312.8,569.4 L313.3,568.5 L313.7,567.5 L314.1,566.6 L314.5,565.7 L314.9,564.7 L315.2,563.8 L315.6,562.9 L315.8,561.9 L316.1,561.0 L316.4,560.0 L316.7,559.0 L316.9,558.1 L317.2,557.1 L317.4,556.1 L317.6,555.1 L317.8,554.2 L318.0,553.2 L318.3,552.2 L318.5,551.2 L318.7,550.2 L318.9,549.2 L319.1,548.3 L319.3,547.3 L319.5,546.3 L319.7,545.3 L319.9,544.3 L320.1,543.4 L320.3,542.4 L320.5,541.4 L320.6,540.4 L320.8,539.4 L321.0,538.4 L321.2,537.4 L321.4,536.5 L321.5,535.5 L321.7,534.5 L321.9,533.5 L322.0,532.5 L322.2,531.5 L322.4,530.5 L322.6,529.6 L322.8,528.6 L322.9,527.6 L323.1,526.6 L323.3,525.6 L323.5,524.6 L323.6,523.6 L323.8,522.7 L324.0,521.7 L324.1,520.7 L324.3,519.7 L324.4,518.7 L324.6,517.7 L324.7,516.7 L324.9,515.7 L325.0,514.8 L325.1,513.8 L325.2,512.8 L325.4,511.8 L325.5,510.8 L325.6,509.8 L325.7,508.8 L325.8,507.8 L325.9,506.8 L326.0,505.8 L326.1,504.8 L326.2,503.8 L326.3,502.8 L326.4,501.8 L326.5,500.8 L326.6,499.8 L326.7,498.8 L326.7,497.8 L326.8,496.8 L326.9,495.8 L327.0,494.8 L327.1,493.8 L327.1,492.8 L327.2,491.8 L327.3,490.9 L327.4,489.9 L327.4,488.9 L327.5,487.9 L327.6,486.9 L327.7,485.9 L327.7,484.9 L327.8,483.9 L327.9,482.9 L328.0,481.9 L328.1,480.9 L328.2,479.9 L328.3,478.9 L328.4,477.9 L328.5,476.9 L328.6,475.9 L328.7,474.9 L328.8,473.9 L328.9,472.9 L329.0,471.9 L329.1,470.9 L329.2,469.9 L329.3,468.9 L329.5,467.9 L329.6,466.9 L329.7,466.0 L329.8,465.0 L329.9,464.0 L330.0,463.0 L330.1,462.0 L330.2,461.0 L330.4,460.0 L330.5,459.0 L330.6,458.0 L330.7,457.0 L330.8,456.0 L330.9,455.0 L331.0,454.0 L331.1,453.0 L331.2,452.0 L331.3,451.0 L331.4,450.0 L331.5,449.0 L331.7,448.1 L331.8,447.1 L331.9,446.1 L332.0,445.1 L332.1,444.1 L332.2,443.1 L332.3,442.1 L332.4,441.1 L332.5,440.1 L332.6,439.1 L332.7,438.1 L332.8,437.1 L332.9,436.1 L333.0,435.1 L333.1,434.1 L333.2,433.1 L333.3,432.1 L333.4,431.1 L333.6,430.1 L333.7,429.2 L333.8,428.2 L333.9,427.2 L334.0,426.2 L334.1,425.2 L334.2,424.2 L334.3,423.2 L334.5,422.2 L334.6,421.2 L334.7,420.2 L334.8,419.2 L334.9,418.2 L335.0,417.2 L335.2,416.2 L335.3,415.2 L335.4,414.2 L335.5,413.3 L335.6,412.3 L335.8,411.3 L335.9,410.3 L336.0,409.3 L336.1,408.3 L336.3,407.3 L336.4,406.3 L336.5,405.3 L336.6,404.3 L336.7,403.3 L336.9,402.3 L337.0,401.3 L337.1,400.3 L337.2,399.3 L337.4,398.4 L337.5,397.4 L337.6,396.4 L337.7,395.4 L337.9,394.4 L338.0,393.4 L338.1,392.4 L338.2,391.4 L338.4,390.4 L338.5,389.4 L338.6,388.4 L338.8,387.4 L338.9,386.4 L339.1,385.5 L339.2,384.5 L339.4,383.5 L339.5,382.5 L339.7,381.5 L339.9,380.5 L340.0,379.5 L340.2,378.5 L340.4,377.5 L340.5,376.5 L340.7,375.5 L340.9,374.5 L341.2,373.6 L341.4,372.6 L341.7,371.7 L342.0,370.7 L342.4,369.7 L342.9,368.5 L343.4,367.5 L344.0,366.6 L344.6,366.0 L345.1,365.9 L345.6,366.2 L346.2,367.0 L346.7,368.0 L347.2,369.1 L347.6,370.3 L348.0,371.2 L348.3,372.2 L348.6,373.1 L348.9,374.1 L349.1,375.0 L349.4,376.0 L349.6,377.0 L349.8,378.0 L350.0,379.0 L350.2,380.0 L350.4,381.0 L350.6,382.0 L350.7,382.9 L350.9,383.9 L351.1,384.9 L351.2,385.9 L351.3,386.9 L351.5,387.9 L351.6,388.9 L351.7,389.9 L351.9,390.9 L352.0,391.9 L352.1,392.9 L352.2,393.8 L352.3,394.8 L352.5,395.8 L352.6,396.8 L352.8,397.8 L352.9,398.8 L353.1,399.8 L353.2,400.8 L353.4,401.8 L353.5,402.8 L353.7,403.7 L353.8,404.7 L354.0,405.7 L354.2,406.7 L354.3,407.7 L354.5,408.7 L354.6,409.7 L354.8,410.7 L354.9,411.7 L355.0,412.6 L355.2,413.6 L355.3,414.6 L355.4,415.6 L355.5,416.6 L355.7,417.6 L355.8,418.6 L355.9,419.6 L356.0,420.6 L356.1,421.6 L356.2,422.6 L356.3,423.6 L356.4,424.6 L356.5,425.6 L356.6,426.6 L356.7,427.6 L356.8,428.6 L356.8,429.6 L356.9,430.6 L357.0,431.5 L357.1,432.5 L357.2,433.5 L357.3,434.5 L357.4,435.5 L357.5,436.5 L357.6,437.5 L357.7,438.5 L357.8,439.5 L357.9,440.5 L358.0,441.5 L358.1,442.5 L358.1,443.5 L358.2,444.5 L358.3,445.5 L358.4,446.5 L358.5,447.5 L358.6,448.5 L358.7,449.5 L358.8,450.5 L358.9,451.5 L359.0,452.5 L359.1,453.5 L359.2,454.5 L359.3,455.5 L359.3,456.5 L359.4,457.5 L359.5,458.4 L359.6,459.4 L359.7,460.4 L359.8,461.4 L359.9,462.4 L360.0,463.4 L360.1,464.4 L360.2,465.4 L360.3,466.4 L360.4,467.4 L360.5,468.4 L360.6,469.4 L360.7,470.4 L360.8,471.4 L360.9,472.4 L361.0,473.4 L361.1,474.4 L361.2,475.4 L361.3,476.4 L361.4,477.4 L361.5,478.4 L361.6,479.4 L361.6,480.4 L361.7,481.4 L361.8,482.3 L361.9,483.3 L362.0,484.3 L362.1,485.3 L362.3,486.3 L362.4,487.3 L362.5,488.3 L362.6,489.3 L362.7,490.3 L362.8,491.3 L362.9,492.3 L363.0,493.3 L363.1,494.3 L363.2,495.3 L363.3,496.3 L363.4,497.3 L363.5,498.3 L363.6,499.3 L363.7,500.3 L363.8,501.3 L363.9,502.3 L364.0,503.2 L364.1,504.2 L364.2,505.2 L364.4,506.2 L364.5,507.2 L364.6,508.2 L364.7,509.2 L364.8,510.2 L364.9,511.2 L365.0,512.2 L365.2,513.2 L365.3,514.2 L365.4,515.2 L365.5,516.2 L365.6,517.2 L365.7,518.2 L365.8,519.2 L365.9,520.2 L366.0,521.1 L366.1,522.1 L366.2,523.1 L366.3,524.1 L366.4,525.1 L366.5,526.1 L366.6,527.1 L366.7,528.1 L366.8,529.1 L367.0,530.1 L367.1,531.1 L367.2,532.1 L367.3,533.1 L367.5,534.1 L367.6,535.1 L367.8,536.0 L367.9,537.0 L368.1,538.0 L368.2,539.0 L368.4,540.0 L368.5,541.0 L368.7,542.0 L368.9,543.0 L369.1,543.9 L369.2,544.9 L369.4,545.9 L369.6,546.9 L369.8,547.9 L370.0,548.9 L370.2,549.9 L370.3,550.8 L370.5,551.8 L370.7,552.8 L370.9,553.8 L371.1,554.8 L371.3,555.7 L371.5,556.7 L371.7,557.7 L371.9,558.7 L372.2,559.7 L372.4,560.6 L372.6,561.6 L372.8,562.6 L373.1,563.5 L373.3,564.5 L373.6,565.5 L373.9,566.5 L374.1,567.4 L374.4,568.4 L374.7,569.4 L375.0,570.3 L375.3,571.3 L375.6,572.2 L376.0,573.1 L376.3,574.1 L376.7,575.0 L377.1,576.0 L377.5,577.0 L377.9,577.9 L378.4,578.8 L378.9,579.7 L379.4,580.4 L380.0,581.1 L380.8,581.7 L381.6,582.4 L382.5,583.0 L383.5,583.5 L384.4,583.8 L385.3,583.9 L386.3,584.0 L387.3,584.5 L388.3,584.7 L389.3,584.5 L390.3,584.6 L391.2,584.7 L392.2,584.8 L393.2,584.9 L394.3,584.8 L395.3,585.0 L396.3,585.6 L397.3,585.8 L398.3,585.8 L399.3,585.6 L400.3,585.5 L401.3,585.4 L402.3,585.4 L403.3,585.3 L404.3,584.8 L405.3,584.4 L406.2,584.2 L407.2,583.9 L408.1,583.0 L409.0,582.6 L409.9,582.4 L410.9,582.1 L411.7,581.9 L412.6,581.3 L413.5,580.6 L414.3,579.9 L415.0,579.3 L415.6,578.6 L416.2,577.9 L416.8,577.1 L417.3,576.2 L417.8,575.4 L418.3,574.5 L418.8,573.5 L419.2,572.6 L419.6,571.6 L420.0,570.7 L420.4,569.8 L420.7,568.8 L421.0,567.9 L421.4,567.0 L421.7,566.0 L421.9,565.1 L422.2,564.1 L422.5,563.1 L422.8,562.1 L423.0,561.2 L423.3,560.2 L423.5,559.2 L423.7,558.2 L424.0,557.3 L424.2,556.3 L424.4,555.3 L424.7,554.3 L424.9,553.4 L425.1,552.4 L425.3,551.4 L425.6,550.4 L425.8,549.5 L426.0,548.5 L426.2,547.5 L426.4,546.5 L426.6,545.5 L426.8,544.6 L427.0,543.6 L427.2,542.6 L427.3,541.6 L427.5,540.6 L427.7,539.6 L427.9,538.7 L428.1,537.7 L428.2,536.7 L428.4,535.7 L428.6,534.7 L428.7,533.7 L428.9,532.7 L429.0,531.8 L429.2,530.8 L429.4,529.8 L429.5,528.8 L429.7,527.8 L429.8,526.8 L430.0,525.8 L430.1,524.8 L430.3,523.8 L430.4,522.9 L430.6,521.9 L430.7,520.9 L430.8,519.9 L431.0,518.9 L431.1,517.9 L431.3,516.9 L431.4,515.9 L431.5,514.9 L431.7,513.9 L431.8,512.9 L432.0,512.0 L432.1,511.0 L432.2,510.0 L432.4,509.0 L432.5,508.0 L432.6,507.0 L432.8,506.0 L432.9,505.0 L433.1,504.0 L433.2,503.0 L433.3,502.0 L433.5,501.1 L433.6,500.1 L433.8,499.1 L433.9,498.1 L434.1,497.1 L434.2,496.1 L434.4,495.1 L434.6,494.1 L434.7,493.1 L434.9,492.2 L435.0,491.2 L435.2,490.2 L435.4,489.2 L435.5,488.2 L435.7,487.2 L435.9,486.2 L436.1,485.3 L436.2,484.3 L436.4,483.3 L436.6,482.3 L436.8,481.3 L436.9,480.3 L437.1,479.3 L437.3,478.4 L437.5,477.4 L437.7,476.4 L437.9,475.4 L438.1,474.4 L438.3,473.5 L438.5,472.5 L438.7,471.5 L438.9,470.5 L439.1,469.5 L439.3,468.5 L439.5,467.5 L439.7,466.5 L440.0,465.5 L440.2,464.6 L440.5,463.6 L440.8,462.7 L441.1,461.7 L441.4,460.8 L441.9,459.8 L442.4,458.8 L443.1,457.7 L443.7,456.9 L444.2,456.5 L444.7,456.6 L445.1,457.4 L445.5,458.4 L445.9,459.6 L446.2,460.7 L446.4,461.7 L446.6,462.6 L446.8,463.6 L447.0,464.6 L447.2,465.6 L447.3,466.6 L447.5,467.6 L447.6,468.6 L447.8,469.6 L447.9,470.6 L448.1,471.6 L448.2,472.6 L448.4,473.5 L448.5,474.5 L448.7,475.5 L448.8,476.5 L449.0,477.5 L449.1,478.5 L449.3,479.5 L449.4,480.5 L449.6,481.5 L449.7,482.4 L449.9,483.4 L450.0,484.4 L450.2,485.4 L450.3,486.4 L450.4,487.4 L450.6,488.4 L450.7,489.4 L450.8,490.4 L451.0,491.4 L451.1,492.4 L451.2,493.3 L451.3,494.3 L451.5,495.3 L451.6,496.3 L451.7,497.3 L451.8,498.3 L452.0,499.3 L452.1,500.3 L452.2,501.3 L452.3,502.3 L452.5,503.3 L452.6,504.3 L452.7,505.3 L452.8,506.3 L452.9,507.2 L453.1,508.2 L453.2,509.2 L453.3,510.2 L453.4,511.2 L453.6,512.2 L453.7,513.2 L453.8,514.2 L453.9,515.2 L454.1,516.2 L454.2,517.2 L454.3,518.2 L454.4,519.2 L454.6,520.2 L454.7,521.1 L454.8,522.1 L455.0,523.1 L455.1,524.1 L455.2,525.1 L455.4,526.1 L455.5,527.1 L455.6,528.1 L455.8,529.1 L455.9,530.1 L456.0,531.1 L456.2,532.1 L456.3,533.0 L456.4,534.0 L456.6,535.0 L456.7,536.0 L456.9,537.0 L457.0,538.0 L457.2,539.0 L457.3,540.0 L457.5,541.0 L457.6,541.9 L457.8,542.9 L457.9,543.9 L458.1,544.9 L458.3,545.9 L458.4,546.9 L458.6,547.9 L458.7,548.9 L458.9,549.9 L459.1,550.8 L459.3,551.8 L459.4,552.8 L459.6,553.8 L459.8,554.8 L460.0,555.8 L460.2,556.7 L460.3,557.7 L460.5,558.7 L460.7,559.7 L460.9,560.7 L461.1,561.7 L461.3,562.6 L461.5,563.6 L461.7,564.6 L462.0,565.6 L462.2,566.5 L462.4,567.5 L462.7,568.5 L462.9,569.5 L463.2,570.4 L463.4,571.4 L463.7,572.4 L464.0,573.3 L464.3,574.3 L464.6,575.3 L464.9,576.2 L465.2,577.2 L465.5,578.1 L465.9,579.1 L466.3,580.0 L466.7,580.9 L467.1,581.7 L467.6,582.7 L468.1,583.6 L468.7,584.5 L469.2,585.4 L469.9,586.2 L470.5,586.9 L471.2,587.3 L472.0,587.7 L472.9,588.2 L473.8,588.8 L474.8,589.5 L475.8,589.9 L476.8,589.8 L477.7,589.6 L478.7,589.9 L479.7,590.4 L480.7,590.6 L481.7,590.5 L482.7,590.5 L483.7,590.6 L484.7,590.5 L485.7,590.4 L486.7,590.5 L487.7,590.3 L488.7,590.4 L489.7,590.9 L490.7,590.9 L491.7,590.6 L492.7,590.7 L493.7,590.8 L494.7,590.3 L495.7,590.2 L496.7,590.7 L497.7,590.5 L498.7,590.0 L499.7,589.7 L500.7,589.8 L501.7,590.2 L502.7,590.4 L503.7,590.6 L504.7,590.6 L505.7,590.6 L506.7,590.8 L507.7,591.0 L508.7,590.9 L509.7,590.3 L510.7,590.3 L511.7,590.8 L512.7,590.8 L513.7,590.4 L514.7,590.2 L515.7,590.1 L516.7,589.6 L517.7,589.9 L518.7,590.5 L519.7,590.7 L520.7,591.0 L521.7,590.9 L522.7,591.0 L523.7,591.4 L524.7,591.1 L525.7,590.6 L526.7,590.3 L527.7,590.1 L528.7,590.0 L529.7,590.4 L530.7,590.6 L531.7,590.5 L532.7,590.7 L533.7,590.3 L534.8,589.9 L535.8,590.1 L536.8,590.5 L537.8,590.9 L538.8,591.1 L539.8,590.8 L540.8,590.8 L541.8,591.0 L542.8,590.9 L543.8,590.6 L544.8,590.3 L545.8,590.6 L546.8,591.1 L547.8,590.9 L548.8,590.4 L549.8,590.3 L550.8,590.7 L551.8,591.0 L552.8,590.5 L553.8,590.3 L554.8,590.4 L555.8,590.4 L556.8,590.6 L557.8,591.1 L558.8,590.9 L559.8,590.3 L560.8,590.5 L561.8,590.8 L562.8,590.7 L563.8,590.6 L564.8,590.4 L565.8,590.5 L566.8,590.7 L567.8,590.7 L568.8,590.5 L569.8,590.4 L570.8,590.6 L571.8,590.8 L572.8,590.6 L573.8,590.2 L574.8,590.2 L575.8,590.4 L576.8,590.4 L577.8,590.4 L578.8,590.7 L579.8,591.1 L580.8,591.3 L581.8,591.2 L582.8,590.4 L583.8,589.7 L584.8,590.0 L585.8,590.5 L586.8,590.5 L587.8,590.6 L588.8,590.6 L589.8,590.5 L590.8,590.5 L591.8,590.4 L592.8,590.2 L593.8,590.2 L594.8,590.2 L595.8,590.0 L596.8,590.1 L597.8,590.5 L598.8,590.5 L599.8,590.6 L600.8,590.7 L601.8,590.7 L602.8,590.6 L603.8,590.4 L604.8,590.6 L605.8,591.2 L606.8,591.3 L607.8,590.7 L608.8,590.0 L609.8,590.0 L610.8,590.3 L611.8,590.4 L612.8,590.5 L613.8,590.6 L614.8,590.7 L615.8,590.8 L616.8,590.8" stroke="#77ac30"/>
<path d="M103.9,591.3 L104.9,591.3 L105.9,590.9 L106.9,590.5 L107.9,590.6 L108.9,590.9 L109.9,590.9 L110.9,590.8 L111.9,590.8 L112.9,590.7 L113.9,590.7 L114.9,591.2 L115.9,591.6 L116.9,591.6 L117.9,591.2 L118.9,590.8 L119.9,590.6 L120.9,590.7 L121.9,590.9 L122.9,590.7 L123.9,590.5 L124.9,591.0 L125.9,591.4 L126.9,591.1 L127.9,590.7 L128.9,590.8 L129.9,591.0 L130.9,590.9 L131.9,590.8 L132.9,590.9 L133.9,591.4 L134.9,591.4 L135.9,590.9 L136.9,590.6 L137.9,590.4 L138.9,590.2 L139.9,590.3 L140.9,590.8 L141.9,591.1 L142.9,590.9 L143.9,590.7 L144.9,590.9 L145.9,590.8 L146.9,590.4 L147.9,590.5 L148.9,590.7 L149.9,590.7 L150.9,590.6 L151.9,590.4 L152.9,590.8 L153.9,591.3 L154.9,591.5 L155.9,591.5 L156.9,591.6 L157.9,591.3 L158.9,590.9 L159.9,590.6 L160.9,590.3 L161.9,590.0 L162.9,590.0 L163.9,590.5 L164.9,590.7 L165.9,590.4 L166.9,590.3 L167.9,589.9 L168.9,589.6 L169.8,589.4 L170.8,589.2 L171.8,589.4 L172.8,589.4 L173.8,588.9 L174.8,588.7 L175.8,588.7 L176.7,588.7 L177.7,588.4 L178.7,588.1 L179.7,587.8 L180.6,587.3 L181.6,586.9 L182.6,586.8 L183.5,586.4 L184.5,586.2 L185.5,586.1 L186.4,585.6 L187.4,585.5 L188.3,585.4 L189.3,584.8 L190.2,583.9 L191.2,583.2 L192.1,583.2 L193.1,583.3 L194.1,583.0 L195.0,582.8 L196.0,582.7 L197.0,582.4 L197.9,582.2 L198.9,582.0 L199.9,581.5 L200.8,581.5 L201.8,581.8 L202.8,581.3 L203.8,580.6 L204.7,580.6 L205.7,580.8 L206.7,580.8 L207.7,580.4 L208.7,579.9 L209.7,579.8 L210.7,580.0 L211.7,579.8 L212.7,579.5 L213.7,579.4 L214.7,579.4 L215.7,579.5 L216.7,579.4 L217.7,579.5 L218.7,579.8 L219.7,579.6 L220.7,579.6 L221.7,579.8 L222.7,579.8 L223.7,579.8 L224.6,579.6 L225.6,579.6 L226.6,580.1 L227.6,580.5 L228.6,580.6 L229.6,580.7 L230.6,580.7 L231.6,580.8 L232.6,581.3 L233.6,581.9 L234.6,581.9 L235.6,581.7 L236.5,581.8 L237.5,581.9 L238.5,582.1 L239.5,582.5 L240.5,582.3 L241.5,582.1 L242.5,582.4 L243.4,583.0 L244.4,583.4 L245.4,583.5 L246.4,583.5 L247.4,583.6 L248.4,583.8 L249.4,583.8 L250.4,584.0 L251.4,584.0 L252.4,583.9 L253.4,584.0 L254.4,583.9 L255.4,584.0 L256.4,584.3 L257.4,584.3 L258.4,584.2 L259.4,584.2 L260.4,584.5 L261.4,584.6 L262.4,584.4 L263.4,584.4 L264.4,584.3 L265.4,584.6 L266.4,585.2 L267.4,584.8 L268.4,584.5 L269.4,584.8 L270.4,584.7 L271.4,584.9 L272.4,585.0 L273.4,584.7 L274.4,584.5 L275.4,584.5 L276.4,584.3 L277.4,583.9 L278.4,583.8 L279.4,584.2 L280.4,584.4 L281.4,584.5 L282.4,584.5 L283.4,584.1 L284.3,583.7 L285.3,583.5 L286.3,583.3 L287.3,583.4 L288.3,583.8 L289.3,584.4 L290.3,584.6 L291.3,584.5 L292.3,584.3 L293.3,584.3 L294.3,584.7 L295.3,585.0 L296.3,585.0 L297.3,585.2 L298.3,585.7 L299.3,585.7 L300.3,585.3 L301.3,585.0 L302.3,585.1 L303.3,585.3 L304.3,585.4 L305.3,585.6 L306.3,585.8 L307.3,586.0 L308.3,585.9 L309.3,585.6 L310.3,585.4 L311.3,585.1 L312.3,585.1 L313.3,585.2 L314.2,585.1 L315.2,584.9 L316.2,584.4 L317.2,584.2 L318.2,584.1 L319.1,583.8 L320.1,583.4 L321.1,583.0 L322.0,582.7 L323.0,582.4 L324.0,582.3 L324.9,582.2 L325.9,582.0 L326.8,581.3 L327.7,580.5 L328.7,580.3 L329.6,580.2 L330.4,579.7 L331.3,579.4 L332.2,578.8 L333.1,578.1 L334.0,578.1 L334.9,578.1 L335.8,577.5 L336.8,576.8 L337.8,576.5 L338.8,576.2 L339.8,575.8 L340.8,576.1 L341.8,576.6 L342.8,576.4 L343.8,576.1 L344.7,576.3 L345.7,576.5 L346.7,576.5 L347.7,576.8 L348.7,576.8 L349.7,576.8 L350.7,576.8 L351.7,576.4 L352.6,576.6 L353.6,577.1 L354.6,577.3 L355.6,577.5 L356.5,577.7 L357.5,578.3 L358.5,579.2 L359.4,579.3 L360.4,579.2 L361.4,579.5 L362.4,579.6 L363.4,579.8 L364.4,580.1 L365.3,580.1 L366.3,579.9 L367.3,580.2 L368.3,580.2 L369.3,580.2 L370.3,580.5 L371.3,580.6 L372.3,580.9 L373.3,580.9 L374.3,580.5 L375.3,580.3 L376.2,579.9 L377.2,579.2 L378.2,579.0 L379.2,579.0 L380.2,578.8 L381.1,578.8 L382.1,578.6 L383.1,578.6 L384.1,579.1 L385.1,579.2 L386.1,578.6 L387.1,578.3 L388.1,578.5 L389.1,578.8 L390.1,578.6 L391.1,577.9 L392.1,577.5 L393.1,577.3 L394.1,577.0 L395.1,576.9 L396.0,577.0 L397.0,577.0 L398.0,577.1 L399.0,576.8 L400.0,576.0 L400.9,575.6 L401.9,575.8 L402.9,575.9 L403.9,575.4 L404.9,574.9 L405.9,575.2 L406.9,575.2 L407.9,575.2 L408.9,575.3 L409.9,575.2 L410.9,574.8 L411.8,574.5 L412.8,574.4 L413.8,574.0 L414.8,573.6 L415.8,573.6 L416.8,573.4 L417.9,573.2 L418.9,573.3 L419.9,573.5 L420.8,573.3 L421.7,572.9 L422.5,572.3 L423.3,571.5 L424.1,570.9 L424.8,570.4 L425.5,569.7 L426.2,568.8 L426.8,567.9 L427.3,567.0 L427.9,566.1 L428.3,565.3 L428.7,564.4 L429.1,563.5 L429.5,562.6 L429.8,561.7 L430.1,560.7 L430.5,559.7 L430.7,558.8 L431.0,557.8 L431.3,556.8 L431.6,555.8 L431.8,554.8 L432.0,553.9 L432.3,552.9 L432.5,551.9 L432.7,550.9 L432.9,550.0 L433.1,549.0 L433.3,548.0 L433.5,547.0 L433.7,546.0 L433.8,545.0 L434.0,544.1 L434.2,543.1 L434.3,542.1 L434.5,541.1 L434.7,540.1 L434.8,539.1 L435.0,538.1 L435.1,537.1 L435.2,536.1 L435.4,535.2 L435.5,534.2 L435.7,533.2 L435.8,532.2 L435.9,531.2 L436.0,530.2 L436.2,529.2 L436.3,528.2 L436.4,527.2 L436.5,526.2 L436.6,525.2 L436.7,524.2 L436.8,523.2 L436.9,522.2 L437.0,521.2 L437.1,520.2 L437.1,519.2 L437.2,518.2 L437.3,517.3 L437.4,516.3 L437.4,515.3 L437.5,514.3 L437.6,513.3 L437.7,512.3 L437.7,511.3 L437.8,510.3 L437.9,509.3 L437.9,508.3 L438.0,507.3 L438.1,506.3 L438.1,505.3 L438.2,504.3 L438.2,503.3 L438.3,502.3 L438.3,501.3 L438.4,500.3 L438.5,499.3 L438.5,498.3 L438.6,497.3 L438.6,496.3 L438.7,495.3 L438.7,494.3 L438.8,493.3 L438.8,492.3 L438.9,491.3 L438.9,490.3 L439.0,489.3 L439.0,488.3 L439.1,487.3 L439.1,486.3 L439.2,485.3 L439.2,484.3 L439.3,483.3 L439.3,482.3 L439.3,481.3 L439.4,480.3 L439.4,479.3 L439.5,478.3 L439.5,477.3 L439.6,476.3 L439.6,475.3 L439.7,474.3 L439.7,473.3 L439.8,472.3 L439.8,471.3 L439.8,470.3 L439.9,469.3 L439.9,468.3 L440.0,467.3 L440.0,466.3 L440.1,465.3 L440.1,464.3 L440.2,463.3 L440.2,462.3 L440.3,461.3 L440.3,460.3 L440.4,459.3 L440.4,458.3 L440.5,457.3 L440.5,456.3 L440.6,455.3 L440.7,454.3 L440.7,453.3 L440.8,452.3 L440.8,451.3 L440.9,450.3 L440.9,449.3 L441.0,448.3 L441.1,447.3 L441.1,446.3 L441.2,445.3 L441.2,444.3 L441.3,443.3 L441.4,442.3 L441.4,441.3 L441.5,440.3 L441.5,439.3 L441.6,438.3 L441.7,437.3 L441.7,436.3 L441.8,435.3 L441.8,434.3 L441.9,433.3 L442.0,432.3 L442.0,431.3 L442.1,430.3 L442.2,429.3 L442.2,428.3 L442.3,427.3 L442.3,426.3 L442.4,425.3 L442.5,424.4 L442.5,423.4 L442.6,422.4 L442.6,421.4 L442.7,420.4 L442.8,419.4 L442.8,418.4 L442.9,417.4 L442.9,416.4 L443.0,415.4 L443.0,414.4 L443.1,413.4 L443.2,412.4 L443.2,411.4 L443.3,410.4 L443.3,409.4 L443.4,408.4 L443.5,407.4 L443.5,406.4 L443.6,405.4 L443.6,404.4 L443.7,403.4 L443.8,402.4 L443.8,401.4 L443.9,400.4 L443.9,399.4 L444.0,398.4 L444.0,397.4 L444.1,396.4 L444.2,395.4 L444.2,394.4 L444.3,393.4 L444.3,392.4 L444.4,391.4 L444.4,390.4 L444.5,389.4 L444.5,388.4 L444.6,387.4 L444.6,386.4 L444.6,385.4 L444.7,384.4 L444.7,383.4 L444.8,382.4 L444.8,381.4 L444.8,380.4 L444.9,379.4 L444.9,378.4 L444.9,377.4 L445.0,376.4 L445.0,375.4 L445.0,374.4 L445.1,373.4 L445.1,372.4 L445.1,371.4 L445.2,370.4 L445.2,369.4 L445.2,368.4 L445.3,367.4 L445.3,366.4 L445.3,365.4 L445.3,364.4 L445.4,363.4 L445.4,362.4 L445.4,361.4 L445.4,360.4 L445.5,359.4 L445.5,358.4 L445.5,357.4 L445.5,356.4 L445.6,355.4 L445.6,354.4 L445.6,353.4 L445.7,352.4 L445.7,351.4 L445.7,350.4 L445.7,349.4 L445.8,348.4 L445.8,347.4 L445.8,346.4 L445.8,345.4 L445.9,344.4 L445.9,343.4 L445.9,342.4 L445.9,341.4 L446.0,340.4 L446.0,339.4 L446.0,338.4 L446.1,337.4 L446.1,336.4 L446.1,335.4 L446.2,334.4 L446.2,333.4 L446.2,332.4 L446.3,331.4 L446.3,330.4 L446.3,329.4 L446.4,328.4 L446.4,327.4 L446.4,326.4 L446.5,325.4 L446.5,324.4 L446.6,323.4 L446.6,322.4 L446.7,321.4 L446.7,320.4 L446.8,319.4 L446.8,318.4 L446.9,317.4 L446.9,316.4 L447.0,315.4 L447.0,314.4 L447.1,313.4 L447.1,312.4 L447.2,311.4 L447.2,310.4 L447.3,309.4 L447.3,308.4 L447.4,307.4 L447.4,306.4 L447.5,305.4 L447.6,304.4 L447.6,303.4 L447.7,302.4 L447.7,301.4 L447.8,300.4 L447.8,299.4 L447.9,298.4 L447.9,297.4 L448.0,296.4 L448.0,295.4 L448.1,294.4 L448.1,293.4 L448.2,292.4 L448.2,291.4 L448.3,290.4 L448.3,289.4 L448.4,288.4 L448.4,287.4 L448.5,286.4 L448.5,285.4 L448.6,284.4 L448.6,283.4 L448.7,282.4 L448.7,281.4 L448.7,280.4 L448.8,279.4 L448.8,278.4 L448.9,277.4 L448.9,276.4 L448.9,275.4 L449.0,274.4 L449.0,273.4 L449.0,272.4 L449.1,271.4 L449.1,270.4 L449.2,269.4 L449.2,268.4 L449.2,267.4 L449.3,266.4 L449.3,265.4 L449.3,264.4 L449.4,263.4 L449.4,262.4 L449.4,261.4 L449.5,260.4 L449.5,259.4 L449.5,258.4 L449.6,257.4 L449.6,256.4 L449.6,255.4 L449.7,254.4 L449.7,253.4 L449.7,252.4 L449.8,251.4 L449.8,250.4 L449.8,249.4 L449.9,248.4 L449.9,247.4 L449.9,246.4 L450.0,245.4 L450.0,244.4 L450.1,243.4 L450.1,242.4 L450.1,241.4 L450.2,240.4 L450.2,239.4 L450.2,238.4 L450.3,237.4 L450.3,236.4 L450.3,235.4 L450.3,234.4 L450.4,233.4 L450.4,232.4 L450.4,231.4 L450.5,230.4 L450.5,229.4 L450.5,228.4 L450.6,227.4 L450.6,226.4 L450.6,225.4 L450.7,224.4 L450.7,223.4 L450.8,222.4 L450.8,221.4 L450.8,220.4 L450.9,219.4 L450.9,218.4 L450.9,217.4 L451.0,216.4 L451.0,215.4 L451.1,214.4 L451.1,213.4 L451.2,212.4 L451.2,211.4 L451.2,210.4 L451.3,209.4 L451.3,208.4 L451.4,207.4 L451.4,206.4 L451.5,205.4 L451.5,204.4 L451.6,203.5 L451.6,202.5 L451.7,201.5 L451.7,200.5 L451.8,199.5 L451.8,198.5 L451.9,197.5 L451.9,196.5 L452.0,195.5 L452.1,194.5 L452.1,193.5 L452.2,192.5 L452.2,191.5 L452.3,190.5 L452.3,189.5 L452.4,188.5 L452.4,187.5 L452.5,186.5 L452.5,185.5 L452.5,184.5 L452.6,183.5 L452.6,182.5 L452.7,181.5 L452.7,180.5 L452.8,179.5 L452.8,178.5 L452.9,177.5 L452.9,176.5 L453.0,175.5 L453.0,174.5 L453.0,173.5 L453.1,172.5 L453.1,171.5 L453.2,170.5 L453.2,169.5 L453.3,168.5 L453.3,167.5 L453.4,166.5 L453.4,165.5 L453.4,164.5 L453.5,163.5 L453.5,162.5 L453.6,161.5 L453.6,160.5 L453.7,159.5 L453.7,158.5 L453.8,157.5 L453.8,156.5 L453.8,155.5 L453.9,154.5 L453.9,153.5 L454.0,152.5 L454.0,151.5 L454.1,150.5 L454.1,149.5 L454.2,148.5 L454.2,147.5 L454.3,146.5 L454.4,145.5 L454.4,144.5 L454.5,143.5 L454.5,142.5 L454.6,141.5 L454.6,140.5 L454.7,139.5 L454.7,138.5 L454.8,137.5 L454.8,136.5 L454.9,135.5 L455.0,134.5 L455.0,133.5 L455.1,132.5 L455.1,131.5 L455.2,130.5 L455.3,129.5 L455.3,128.5 L455.4,127.5 L455.5,126.5 L455.6,125.5 L455.6,124.5 L455.7,123.5 L455.8,122.5 L455.9,121.5 L455.9,120.5 L456.0,119.5 L456.1,118.5 L456.2,117.5 L456.3,116.5 L456.4,115.5 L456.5,114.5 L456.6,113.5 L456.7,112.5 L456.8,111.5 L456.9,110.6 L457.1,109.6 L457.2,108.6 L457.4,107.5 L457.6,106.3 L457.9,105.0 L458.2,103.7 L458.5,102.5 L458.8,101.5 L459.1,100.6 L459.4,100.0 L459.7,99.8 L459.9,99.9 L460.2,100.4 L460.5,101.2 L460.7,102.3 L461.0,103.5 L461.2,104.8 L461.5,106.0 L461.7,107.3 L461.9,108.4 L462.0,109.4 L462.1,110.4 L462.3,111.4 L462.4,112.4 L462.5,113.4 L462.6,114.3 L462.7,115.3 L462.8,116.3 L462.9,117.3 L462.9,118.3 L463.0,119.3 L463.1,120.3 L463.2,121.3 L463.3,122.3 L463.4,123.3 L463.4,124.3 L463.5,125.3 L463.6,126.3 L463.7,127.3 L463.8,128.3 L463.9,129.3 L464.0,130.3 L464.1,131.3 L464.1,132.3 L464.2,133.3 L464.3,134.3 L464.4,135.3 L464.5,136.3 L464.6,137.3 L464.6,138.3 L464.7,139.3 L464.8,140.3 L464.9,141.3 L465.0,142.3 L465.0,143.3 L465.1,144.3 L465.2,145.3 L465.3,146.3 L465.3,147.3 L465.4,148.3 L465.5,149.3 L465.5,150.3 L465.6,151.3 L465.6,152.3 L465.7,153.3 L465.8,154.3 L465.8,155.3 L465.9,156.3 L466.0,157.3 L466.0,158.3 L466.1,159.3 L466.1,160.3 L466.2,161.3 L466.2,162.3 L466.3,163.2 L466.3,164.2 L466.4,165.2 L466.5,166.2 L466.5,167.2 L466.6,168.2 L466.6,169.2 L466.7,170.2 L466.7,171.2 L466.8,172.2 L466.8,173.2 L466.9,174.2 L466.9,175.2 L467.0,176.2 L467.0,177.2 L467.1,178.2 L467.1,179.2 L467.2,180.2 L467.2,181.2 L467.2,182.2 L467.3,183.2 L467.3,184.2 L467.4,185.2 L467.4,186.2 L467.5,187.2 L467.5,188.2 L467.6,189.2 L467.6,190.2 L467.6,191.2 L467.7,192.2 L467.7,193.2 L467.8,194.2 L467.8,195.2 L467.9,196.2 L467.9,197.2 L467.9,198.2 L468.0,199.2 L468.0,200.2 L468.1,201.2 L468.1,202.2 L468.1,203.2 L468.2,204.2 L468.2,205.2 L468.3,206.2 L468.3,207.2 L468.3,208.2 L468.4,209.2 L468.4,210.2 L468.4,211.2 L468.5,212.2 L468.5,213.2 L468.6,214.2 L468.6,215.2 L468.6,216.2 L468.7,217.2 L468.7,218.2 L468.7,219.2 L468.8,220.2 L468.8,221.2 L468.8,222.2 L468.9,223.2 L468.9,224.2 L468.9,225.2 L469.0,226.2 L469.0,227.2 L469.0,228.2 L469.0,229.2 L469.1,230.2 L469.1,231.2 L469.1,232.2 L469.2,233.2 L469.2,234.2 L469.2,235.2 L469.3,236.2 L469.3,237.2 L469.3,238.2 L469.3,239.2 L469.4,240.2 L469.4,241.2 L469.4,242.2 L469.5,243.2 L469.5,244.2 L469.5,245.2 L469.5,246.2 L469.6,247.2 L469.6,248.2 L469.6,249.2 L469.6,250.2 L469.7,251.2 L469.7,252.2 L469.7,253.2 L469.7,254.2 L469.8,255.2 L469.8,256.2 L469.8,257.2 L469.8,258.2 L469.9,259.2 L469.9,260.2 L469.9,261.2 L469.9,262.2 L470.0,263.2 L470.0,264.2 L470.0,265.2 L470.0,266.2 L470.1,267.2 L470.1,268.2 L470.1,269.2 L470.1,270.2 L470.1,271.2 L470.2,272.2 L470.2,273.2 L470.2,274.2 L470.3,275.2 L470.3,276.2 L470.3,277.2 L470.3,278.2 L470.4,279.2 L470.4,280.2 L470.4,281.2 L470.5,282.2 L470.5,283.2 L470.5,284.2 L470.5,285.2 L470.6,286.2 L470.6,287.2 L470.7,288.2 L470.7,289.2 L470.7,290.2 L470.8,291.2 L470.8,292.2 L470.8,293.2 L470.9,294.2 L470.9,295.2 L471.0,296.2 L471.0,297.2 L471.1,298.2 L471.1,299.2 L471.1,300.2 L471.2,301.2 L471.2,302.2 L471.3,303.2 L471.3,304.2 L471.4,305.2 L471.4,306.2 L471.5,307.2 L471.5,308.2 L471.6,309.2 L471.6,310.2 L471.6,311.2 L471.7,312.2 L471.7,313.2 L471.8,314.2 L471.8,315.2 L471.9,316.2 L471.9,317.2 L471.9,318.2 L472.0,319.2 L472.0,320.2 L472.1,321.2 L472.1,322.2 L472.1,323.2 L472.2,324.2 L472.2,325.2 L472.3,326.2 L472.3,327.2 L472.3,328.2 L472.4,329.2 L472.4,330.2 L472.4,331.2 L472.4,332.2 L472.5,333.2 L472.5,334.2 L472.5,335.2 L472.6,336.2 L472.6,337.2 L472.6,338.2 L472.6,339.2 L472.7,340.2 L472.7,341.2 L472.7,342.2 L472.7,343.2 L472.8,344.2 L472.8,345.2 L472.8,346.2 L472.8,347.2 L472.9,348.2 L472.9,349.2 L472.9,350.2 L472.9,351.2 L472.9,352.2 L473.0,353.2 L473.0,354.2 L473.0,355.2 L473.0,356.2 L473.1,357.2 L473.1,358.2 L473.1,359.2 L473.1,360.2 L473.2,361.2 L473.2,362.2 L473.2,363.2 L473.2,364.2 L473.3,365.2 L473.3,366.2 L473.3,367.2 L473.3,368.2 L473.4,369.2 L473.4,370.2 L473.4,371.2 L473.4,372.2 L473.5,373.2 L473.5,374.2 L473.5,375.2 L473.5,376.2 L473.6,377.2 L473.6,378.2 L473.6,379.2 L473.7,380.2 L473.7,381.2 L473.7,382.2 L473.8,383.2 L473.8,384.2 L473.8,385.2 L473.9,386.2 L473.9,387.2 L474.0,388.2 L474.0,389.2 L474.0,390.2 L474.1,391.2 L474.1,392.2 L474.2,393.2 L474.2,394.2 L474.3,395.2 L474.3,396.2 L474.4,397.2 L474.4,398.2 L474.5,399.2 L474.5,400.2 L474.6,401.2 L474.6,402.2 L474.7,403.2 L474.7,404.2 L474.8,405.2 L474.8,406.2 L474.9,407.2 L475.0,408.2 L475.0,409.2 L475.1,410.2 L475.1,411.2 L475.2,412.2 L475.2,413.2 L475.3,414.2 L475.3,415.2 L475.4,416.2 L475.4,417.2 L475.5,418.2 L475.5,419.2 L475.6,420.2 L475.6,421.2 L475.7,422.2 L475.7,423.2 L475.8,424.2 L475.9,425.2 L475.9,426.2 L476.0,427.2 L476.0,428.2 L476.1,429.2 L476.1,430.2 L476.2,431.2 L476.2,432.2 L476.3,433.2 L476.4,434.2 L476.4,435.2 L476.5,436.2 L476.5,437.2 L476.6,438.2 L476.6,439.2 L476.7,440.2 L476.7,441.2 L476.8,442.2 L476.9,443.2 L476.9,444.2 L477.0,445.2 L477.0,446.2 L477.1,447.2 L477.1,448.2 L477.2,449.2 L477.2,450.2 L477.3,451.2 L477.3,452.2 L477.4,453.2 L477.4,454.2 L477.5,455.2 L477.6,456.2 L477.6,457.2 L477.7,458.2 L477.7,459.1 L477.8,460.1 L477.8,461.1 L477.9,462.1 L477.9,463.1 L478.0,464.1 L478.0,465.1 L478.1,466.1 L478.1,467.1 L478.1,468.1 L478.2,469.1 L478.2,470.1 L478.3,471.1 L478.3,472.1 L478.4,473.1 L478.4,474.1 L478.5,475.1 L478.5,476.1 L478.6,477.1 L478.6,478.1 L478.7,479.1 L478.7,480.1 L478.8,481.1 L478.8,482.1 L478.9,483.1 L478.9,484.1 L479.0,485.1 L479.0,486.1 L479.0,487.1 L479.1,488.1 L479.1,489.1 L479.2,490.1 L479.2,491.1 L479.3,492.1 L479.3,493.1 L479.4,494.1 L479.4,495.1 L479.5,496.1 L479.5,497.1 L479.6,498.1 L479.6,499.1 L479.7,500.1 L479.7,501.1 L479.8,502.1 L479.8,503.1 L479.9,504.1 L479.9,505.1 L479.9,506.1 L480.0,507.1 L480.0,508.1 L480.1,509.1 L480.1,510.1 L480.2,511.1 L480.2,512.1 L480.3,513.1 L480.3,514.1 L480.4,515.1 L480.4,516.1 L480.5,517.1 L480.5,518.1 L480.6,519.1 L480.6,520.1 L480.7,521.1 L480.8,522.1 L480.8,523.1 L480.9,524.1 L481.0,525.1 L481.0,526.1 L481.1,527.1 L481.2,528.1 L481.3,529.1 L481.3,530.1 L481.4,531.1 L481.5,532.1 L481.6,533.1 L481.7,534.1 L481.8,535.1 L481.9,536.1 L482.0,537.1 L482.1,538.1 L482.2,539.1 L482.3,540.0 L482.4,541.0 L482.5,542.0 L482.6,543.0 L482.8,544.0 L482.9,545.0 L483.0,546.0 L483.2,547.0 L483.3,548.0 L483.5,549.0 L483.7,550.0 L483.8,550.9 L484.0,551.9 L484.1,552.9 L484.3,553.9 L484.5,554.9 L484.7,555.9 L484.8,556.9 L485.0,557.8 L485.2,558.8 L485.4,559.8 L485.6,560.8 L485.8,561.8 L485.9,562.8 L486.2,563.7 L486.4,564.7 L486.6,565.7 L486.8,566.7 L487.0,567.7 L487.2,568.6 L487.5,569.6 L487.7,570.6 L488.0,571.5 L488.2,572.5 L488.5,573.5 L488.7,574.5 L489.0,575.5 L489.2,576.4 L489.5,577.4 L489.8,578.3 L490.2,579.3 L490.5,580.2 L490.9,581.1 L491.3,582.0 L491.8,582.9 L492.3,583.8 L492.9,584.6 L493.5,585.4 L494.1,586.2 L494.8,586.9 L495.5,587.7 L496.3,588.3 L497.1,589.0 L498.0,589.8 L498.8,590.0 L499.7,590.2 L500.7,590.4 L501.7,589.9 L502.7,589.7 L503.7,590.1 L504.7,590.7 L505.7,590.9 L506.7,591.0 L507.7,591.1 L508.7,590.9 L509.7,590.6 L510.7,590.7 L511.7,590.9 L512.7,590.7 L513.7,590.8 L514.7,591.2 L515.7,591.3 L516.7,590.9 L517.7,590.3 L518.7,590.2 L519.7,590.4 L520.7,590.5 L521.7,590.5 L522.7,590.6 L523.7,590.7 L524.7,590.5 L525.7,590.5 L526.7,590.5 L527.7,590.4 L528.7,590.6 L529.7,590.9 L530.7,590.7 L531.7,590.5 L532.7,590.7 L533.7,590.8 L534.7,590.8 L535.7,590.8 L536.7,590.9 L537.7,590.8 L538.7,590.3 L539.7,590.0 L540.7,590.2 L541.8,590.5 L542.8,590.5 L543.8,590.5 L544.8,590.8 L545.8,591.3 L546.8,591.4 L547.8,591.2 L548.8,591.3 L549.8,591.2 L550.8,591.0 L551.8,590.6 L552.8,590.4 L553.8,590.8 L554.8,590.9 L555.8,590.5 L556.8,590.5 L557.8,590.8 L558.8,590.7 L559.8,590.4 L560.8,590.5 L561.8,591.1 L562.8,591.3 L563.8,591.1 L564.8,591.0 L565.8,590.9 L566.8,590.8 L567.8,590.6 L568.8,590.5 L569.8,590.5 L570.8,590.8 L571.8,591.0 L572.8,591.0 L573.8,590.8 L574.8,590.7 L575.8,590.4 L576.8,589.8 L577.8,589.9 L578.8,590.2 L579.8,590.3 L580.8,590.6 L581.8,590.7 L582.8,590.5 L583.8,590.4 L584.8,590.2 L585.8,590.2 L586.8,590.3 L587.8,590.4 L588.8,590.7 L589.8,590.8 L590.8,590.9 L591.8,590.8 L592.8,590.6 L593.8,590.5 L594.8,590.4 L595.8,590.6 L596.8,590.9 L597.8,591.0 L598.8,590.7 L599.8,590.6 L600.8,590.9 L601.8,591.0 L602.8,590.7 L603.8,590.5 L604.8,590.5 L605.8,590.7 L606.8,590.7 L607.8,590.5 L608.8,590.6 L609.8,590.9 L610.8,590.7 L611.8,590.6 L612.8,590.9 L613.8,591.1 L614.8,591.0 L615.8,590.8 L616.8,590.7" stroke="#0000ff"/>
</g>
<g stroke="#262626" stroke-width="1.2">
<line x1="104" x2="109.7" y1="584.5" y2="584.5"/>
<line x1="104" x2="109.7" y1="488.5" y2="488.5"/>
<line x1="104" x2="109.7" y1="392.5" y2="392.5"/>
<line x1="104" x2="109.7" y1="296.5" y2="296.5"/>
<line x1="104" x2="109.7" y1="200.5" y2="200.5"/>
<line x1="104" x2="109.7" y1="104.5" y2="104.5"/>
<line x1="104" x2="109.7" y1="8.5" y2="8.5"/>
<line x1="206.5" x2="206.5" y1="609.9" y2="615"/>
<line x1="309.2" x2="309.2" y1="609.9" y2="615"/>
<line x1="411.9" x2="411.9" y1="609.9" y2="615"/>
<line x1="514.6" x2="514.6" y1="609.9" y2="615"/>
<line x1="617.3" x2="617.3" y1="609.9" y2="615"/>
</g>
<rect x="104" y="7.4" width="512.8" height="607.3" fill="none" stroke="#1c1c1c" stroke-width="1.65"/>
<g>
<text class="tk" transform="translate(96.3,592.4) scale(1,1.05)" text-anchor="end">0</text>
<text class="tk" transform="translate(96.3,496.43) scale(1,1.05)" text-anchor="end">30</text>
<text class="tk" transform="translate(96.3,400.46) scale(1,1.05)" text-anchor="end">60</text>
<text class="tk" transform="translate(96.3,304.49) scale(1,1.05)" text-anchor="end">90</text>
<text class="tk" transform="translate(96.3,208.52) scale(1,1.05)" text-anchor="end">120</text>
<text class="tk" transform="translate(96.3,112.55) scale(1,1.05)" text-anchor="end">150</text>
<text class="tk" transform="translate(96.3,16.58) scale(1,1.05)" text-anchor="end">180</text>
<text class="tk" transform="translate(205.6,643.4) scale(1,1.08)" text-anchor="middle">0</text>
<text class="tk" transform="translate(308.3,643.4) scale(1,1.08)" text-anchor="middle">2</text>
<text class="tk" transform="translate(411.0,643.4) scale(1,1.08)" text-anchor="middle">4</text>
<text class="tk" transform="translate(514.3,643.4) scale(1,1.08)" text-anchor="middle">6</text>
<text class="tk" transform="translate(617.0,643.4) scale(1,1.08)" text-anchor="middle">8</text>
</g>
<text class="lab" transform="translate(371.3,678.9) scale(1,1.01)" text-anchor="middle">Compensation Voltage (V)</text>
<text class="lab" transform="translate(18.7,309.4) rotate(-90) scale(1,1.02)" text-anchor="middle">Peak Intensity (pA)</text>
<rect x="273.9" y="95.9" width="123.9" height="67.1" fill="#fff" stroke="#262626" stroke-width="1"/>
<line x1="281" x2="313.8" y1="108.3" y2="108.3" stroke="#ff0000" stroke-width="2"/>
<text class="leg" transform="translate(317.6,114.5) scale(1,1.08)" text-anchor="start">100 ppm</text>
<line x1="281" x2="313.8" y1="129.9" y2="129.9" stroke="#77ac30" stroke-width="2"/>
<text class="leg" transform="translate(317.6,136.1) scale(1,1.08)" text-anchor="start">1400 ppm</text>
<line x1="281" x2="313.8" y1="151.5" y2="151.5" stroke="#0000ff" stroke-width="2"/>
<text class="leg" transform="translate(317.6,157.7) scale(1,1.08)" text-anchor="start">4000 ppm</text>
<text transform="translate(229.3,32.6) scale(1,1.07)" class="ann"><tspan>M</tspan><tspan class="ss" dy="3.8">2</tspan><tspan dy="-3.8">H</tspan><tspan class="sp" dy="-4.3">+</tspan><tspan dy="4.3">(H</tspan><tspan class="ss" dy="3.8">2</tspan><tspan dy="-3.8">O)</tspan><tspan class="ss" dy="3.8">q</tspan></text>
<line x1="258.9" y1="40.3" x2="222.6" y2="78.2" stroke="#000" stroke-width="1.45"/><polygon points="218,83 220.4,74.7 226.2,80.2" fill="#000"/>
<text transform="translate(492.6,100.7) scale(1,1.07)" class="ann"><tspan>H</tspan><tspan class="sp" dy="-4.3">+</tspan><tspan dy="4.3">(H</tspan><tspan class="ss" dy="3.8">2</tspan><tspan dy="-3.8">O)</tspan><tspan class="ss" dy="3.8">n</tspan></text>
<line x1="509.7" y1="110.3" x2="474.3" y2="148.1" stroke="#000" stroke-width="1.45"/><polygon points="469.7,153 472.0,144.6 477.9,150.1" fill="#000"/>
<text transform="translate(236.8,331) scale(1,1.07)" class="ann"><tspan>M</tspan><tspan class="ss" dy="3.8">2</tspan><tspan dy="-3.8">H</tspan><tspan class="sp" dy="-4.3">+</tspan><tspan dy="4.3">(H</tspan><tspan class="ss" dy="3.8">2</tspan><tspan dy="-3.8">O)</tspan><tspan class="ss" dy="3.8">q</tspan></text>
<line x1="279.1" y1="337.1" x2="244.4" y2="374.2" stroke="#000" stroke-width="1.45"/><polygon points="239.8,379.1 242.1,370.7 248.0,376.2" fill="#000"/>
<text transform="translate(352.6,357.1) scale(1,1.07)" class="ann"><tspan>MH</tspan><tspan class="sp" dy="-4.3">+</tspan><tspan dy="4.3">(H</tspan><tspan class="ss" dy="3.8">2</tspan><tspan dy="-3.8">O)</tspan><tspan class="ss" dy="3.8">p</tspan></text>
<line x1="401.4" y1="366.4" x2="362.8" y2="416.2" stroke="#000" stroke-width="1.45"/><polygon points="358.7,421.5 360.3,413.0 366.6,417.9" fill="#000"/>
<text transform="translate(495.3,445.8) scale(1,1.07)" class="ann"><tspan>H</tspan><tspan class="sp" dy="-4.3">+</tspan><tspan dy="4.3">(H</tspan><tspan class="ss" dy="3.8">2</tspan><tspan dy="-3.8">O)</tspan><tspan class="ss" dy="3.8">n</tspan></text>
<line x1="506" y1="454.8" x2="460.9" y2="506.6" stroke="#000" stroke-width="1.45"/><polygon points="456.5,511.7 458.5,503.3 464.6,508.5" fill="#000"/>
</svg>
</body></html>
